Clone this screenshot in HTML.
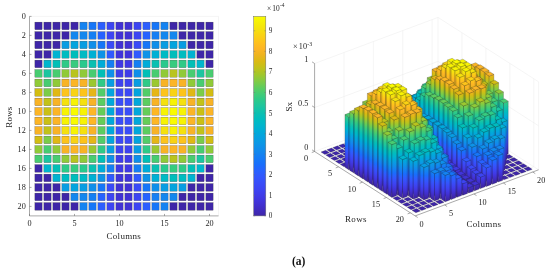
<!DOCTYPE html><html><head><meta charset="utf-8"><title>Figure</title>
<style>html,body{margin:0;padding:0;background:#fff}svg{display:block}text{font-family:"Liberation Serif","DejaVu Serif",serif;fill:#262626}</style></head><body>
<svg width="550" height="273" viewBox="0 0 550 273">
<rect width="550" height="273" fill="#fff"/>
<defs><linearGradient id="cb" x1="0" y1="1" x2="0" y2="0"><stop offset="0.0000" stop-color="#3e26a8"/><stop offset="0.0323" stop-color="#402cc0"/><stop offset="0.0645" stop-color="#4132d6"/><stop offset="0.0968" stop-color="#403ae6"/><stop offset="0.1290" stop-color="#3d43f1"/><stop offset="0.1613" stop-color="#394cf8"/><stop offset="0.1935" stop-color="#3356fd"/><stop offset="0.2258" stop-color="#2861ff"/><stop offset="0.2581" stop-color="#196efc"/><stop offset="0.2903" stop-color="#157bf6"/><stop offset="0.3226" stop-color="#1288ed"/><stop offset="0.3548" stop-color="#0d94e7"/><stop offset="0.3871" stop-color="#079fe1"/><stop offset="0.4194" stop-color="#00aad9"/><stop offset="0.4516" stop-color="#00b5cd"/><stop offset="0.4839" stop-color="#00bcc0"/><stop offset="0.5161" stop-color="#0bc0b0"/><stop offset="0.5484" stop-color="#1dc59f"/><stop offset="0.5806" stop-color="#2bc98b"/><stop offset="0.6129" stop-color="#43cc75"/><stop offset="0.6452" stop-color="#61cd5c"/><stop offset="0.6774" stop-color="#83cb43"/><stop offset="0.7097" stop-color="#a3c72b"/><stop offset="0.7419" stop-color="#c2c21a"/><stop offset="0.7742" stop-color="#daba13"/><stop offset="0.8065" stop-color="#eeb41e"/><stop offset="0.8387" stop-color="#fdb525"/><stop offset="0.8710" stop-color="#fec21c"/><stop offset="0.9032" stop-color="#fad115"/><stop offset="0.9355" stop-color="#f5e00f"/><stop offset="0.9677" stop-color="#f5ee07"/><stop offset="1.0000" stop-color="#f9fb00"/></linearGradient>
<linearGradient id="pg" gradientUnits="userSpaceOnUse" x1="0" y1="0" x2="0" y2="-85.36"><stop offset="0.0000" stop-color="#3e26a8"/><stop offset="0.0323" stop-color="#402cc0"/><stop offset="0.0645" stop-color="#4132d6"/><stop offset="0.0968" stop-color="#403ae6"/><stop offset="0.1290" stop-color="#3d43f1"/><stop offset="0.1613" stop-color="#394cf8"/><stop offset="0.1935" stop-color="#3356fd"/><stop offset="0.2258" stop-color="#2861ff"/><stop offset="0.2581" stop-color="#196efc"/><stop offset="0.2903" stop-color="#157bf6"/><stop offset="0.3226" stop-color="#1288ed"/><stop offset="0.3548" stop-color="#0d94e7"/><stop offset="0.3871" stop-color="#079fe1"/><stop offset="0.4194" stop-color="#00aad9"/><stop offset="0.4516" stop-color="#00b5cd"/><stop offset="0.4839" stop-color="#00bcc0"/><stop offset="0.5161" stop-color="#0bc0b0"/><stop offset="0.5484" stop-color="#1dc59f"/><stop offset="0.5806" stop-color="#2bc98b"/><stop offset="0.6129" stop-color="#43cc75"/><stop offset="0.6452" stop-color="#61cd5c"/><stop offset="0.6774" stop-color="#83cb43"/><stop offset="0.7097" stop-color="#a3c72b"/><stop offset="0.7419" stop-color="#c2c21a"/><stop offset="0.7742" stop-color="#daba13"/><stop offset="0.8065" stop-color="#eeb41e"/><stop offset="0.8387" stop-color="#fdb525"/><stop offset="0.8710" stop-color="#fec21c"/><stop offset="0.9032" stop-color="#fad115"/><stop offset="0.9355" stop-color="#f5e00f"/><stop offset="0.9677" stop-color="#f5ee07"/><stop offset="1.0000" stop-color="#f9fb00"/></linearGradient></defs>
<g stroke="#333" stroke-width="0.26">
<path d="M29.5 16.4H218.5V215.9" fill="none" stroke="#ececec" stroke-width="0.6"/>
<rect x="34.90" y="22.10" width="7.20" height="7.60" fill="#3e26a8"/>
<rect x="43.90" y="22.10" width="7.20" height="7.60" fill="#3e26a8"/>
<rect x="52.90" y="22.10" width="7.20" height="7.60" fill="#3e26a8"/>
<rect x="61.90" y="22.10" width="7.20" height="7.60" fill="#3e26a8"/>
<rect x="70.90" y="22.10" width="7.20" height="7.60" fill="#3e26a8"/>
<rect x="79.90" y="22.10" width="7.20" height="7.60" fill="#1483f1"/>
<rect x="88.90" y="22.10" width="7.20" height="7.60" fill="#1676f8"/>
<rect x="97.90" y="22.10" width="7.20" height="7.60" fill="#2c5efe"/>
<rect x="106.90" y="22.10" width="7.20" height="7.60" fill="#3d45f2"/>
<rect x="115.90" y="22.10" width="7.20" height="7.60" fill="#4132d4"/>
<rect x="124.90" y="22.10" width="7.20" height="7.60" fill="#4132d4"/>
<rect x="133.90" y="22.10" width="7.20" height="7.60" fill="#3d45f2"/>
<rect x="142.90" y="22.10" width="7.20" height="7.60" fill="#2c5efe"/>
<rect x="151.90" y="22.10" width="7.20" height="7.60" fill="#1676f8"/>
<rect x="160.90" y="22.10" width="7.20" height="7.60" fill="#1483f1"/>
<rect x="169.90" y="22.10" width="7.20" height="7.60" fill="#3e26a8"/>
<rect x="178.90" y="22.10" width="7.20" height="7.60" fill="#3e26a8"/>
<rect x="187.90" y="22.10" width="7.20" height="7.60" fill="#3e26a8"/>
<rect x="196.90" y="22.10" width="7.20" height="7.60" fill="#3e26a8"/>
<rect x="205.90" y="22.10" width="7.20" height="7.60" fill="#3e26a8"/>
<rect x="34.90" y="31.60" width="7.20" height="7.60" fill="#3e26a8"/>
<rect x="43.90" y="31.60" width="7.20" height="7.60" fill="#3e26a8"/>
<rect x="52.90" y="31.60" width="7.20" height="7.60" fill="#3e26a8"/>
<rect x="61.90" y="31.60" width="7.20" height="7.60" fill="#3e26a8"/>
<rect x="70.90" y="31.60" width="7.20" height="7.60" fill="#1387ee"/>
<rect x="79.90" y="31.60" width="7.20" height="7.60" fill="#1387ee"/>
<rect x="88.90" y="31.60" width="7.20" height="7.60" fill="#157ff3"/>
<rect x="97.90" y="31.60" width="7.20" height="7.60" fill="#2762ff"/>
<rect x="106.90" y="31.60" width="7.20" height="7.60" fill="#3d45f2"/>
<rect x="115.90" y="31.60" width="7.20" height="7.60" fill="#4132d4"/>
<rect x="124.90" y="31.60" width="7.20" height="7.60" fill="#4132d4"/>
<rect x="133.90" y="31.60" width="7.20" height="7.60" fill="#3d45f2"/>
<rect x="142.90" y="31.60" width="7.20" height="7.60" fill="#2762ff"/>
<rect x="151.90" y="31.60" width="7.20" height="7.60" fill="#157ff3"/>
<rect x="160.90" y="31.60" width="7.20" height="7.60" fill="#1387ee"/>
<rect x="169.90" y="31.60" width="7.20" height="7.60" fill="#1387ee"/>
<rect x="178.90" y="31.60" width="7.20" height="7.60" fill="#3e26a8"/>
<rect x="187.90" y="31.60" width="7.20" height="7.60" fill="#3e26a8"/>
<rect x="196.90" y="31.60" width="7.20" height="7.60" fill="#3e26a8"/>
<rect x="205.90" y="31.60" width="7.20" height="7.60" fill="#3e26a8"/>
<rect x="34.90" y="41.10" width="7.20" height="7.60" fill="#3e26a8"/>
<rect x="43.90" y="41.10" width="7.20" height="7.60" fill="#3e26a8"/>
<rect x="52.90" y="41.10" width="7.20" height="7.60" fill="#3e26a8"/>
<rect x="61.90" y="41.10" width="7.20" height="7.60" fill="#089de2"/>
<rect x="70.90" y="41.10" width="7.20" height="7.60" fill="#04a4de"/>
<rect x="79.90" y="41.10" width="7.20" height="7.60" fill="#089de2"/>
<rect x="88.90" y="41.10" width="7.20" height="7.60" fill="#0f8fea"/>
<rect x="97.90" y="41.10" width="7.20" height="7.60" fill="#1676f8"/>
<rect x="106.90" y="41.10" width="7.20" height="7.60" fill="#3a4bf7"/>
<rect x="115.90" y="41.10" width="7.20" height="7.60" fill="#4132d4"/>
<rect x="124.90" y="41.10" width="7.20" height="7.60" fill="#4132d4"/>
<rect x="133.90" y="41.10" width="7.20" height="7.60" fill="#3a4bf7"/>
<rect x="142.90" y="41.10" width="7.20" height="7.60" fill="#1676f8"/>
<rect x="151.90" y="41.10" width="7.20" height="7.60" fill="#0f8fea"/>
<rect x="160.90" y="41.10" width="7.20" height="7.60" fill="#089de2"/>
<rect x="169.90" y="41.10" width="7.20" height="7.60" fill="#04a4de"/>
<rect x="178.90" y="41.10" width="7.20" height="7.60" fill="#089de2"/>
<rect x="187.90" y="41.10" width="7.20" height="7.60" fill="#3e26a8"/>
<rect x="196.90" y="41.10" width="7.20" height="7.60" fill="#3e26a8"/>
<rect x="205.90" y="41.10" width="7.20" height="7.60" fill="#3e26a8"/>
<rect x="34.90" y="50.60" width="7.20" height="7.60" fill="#3e26a8"/>
<rect x="43.90" y="50.60" width="7.20" height="7.60" fill="#3e26a8"/>
<rect x="52.90" y="50.60" width="7.20" height="7.60" fill="#00b3d1"/>
<rect x="61.90" y="50.60" width="7.20" height="7.60" fill="#00bcc0"/>
<rect x="70.90" y="50.60" width="7.20" height="7.60" fill="#00bdbb"/>
<rect x="79.90" y="50.60" width="7.20" height="7.60" fill="#00bac4"/>
<rect x="88.90" y="50.60" width="7.20" height="7.60" fill="#00b0d4"/>
<rect x="97.90" y="50.60" width="7.20" height="7.60" fill="#0e93e7"/>
<rect x="106.90" y="50.60" width="7.20" height="7.60" fill="#305afe"/>
<rect x="115.90" y="50.60" width="7.20" height="7.60" fill="#4034da"/>
<rect x="124.90" y="50.60" width="7.20" height="7.60" fill="#4034da"/>
<rect x="133.90" y="50.60" width="7.20" height="7.60" fill="#305afe"/>
<rect x="142.90" y="50.60" width="7.20" height="7.60" fill="#0e93e7"/>
<rect x="151.90" y="50.60" width="7.20" height="7.60" fill="#00b0d4"/>
<rect x="160.90" y="50.60" width="7.20" height="7.60" fill="#00bac4"/>
<rect x="169.90" y="50.60" width="7.20" height="7.60" fill="#00bdbb"/>
<rect x="178.90" y="50.60" width="7.20" height="7.60" fill="#00bcc0"/>
<rect x="187.90" y="50.60" width="7.20" height="7.60" fill="#00b3d1"/>
<rect x="196.90" y="50.60" width="7.20" height="7.60" fill="#3e26a8"/>
<rect x="205.90" y="50.60" width="7.20" height="7.60" fill="#3e26a8"/>
<rect x="34.90" y="60.10" width="7.20" height="7.60" fill="#3e26a8"/>
<rect x="43.90" y="60.10" width="7.20" height="7.60" fill="#00b6cd"/>
<rect x="52.90" y="60.10" width="7.20" height="7.60" fill="#02bfb6"/>
<rect x="61.90" y="60.10" width="7.20" height="7.60" fill="#2fca87"/>
<rect x="70.90" y="60.10" width="7.20" height="7.60" fill="#37cb7f"/>
<rect x="79.90" y="60.10" width="7.20" height="7.60" fill="#29c98d"/>
<rect x="88.90" y="60.10" width="7.20" height="7.60" fill="#0ac0b1"/>
<rect x="97.90" y="60.10" width="7.20" height="7.60" fill="#00acd8"/>
<rect x="106.90" y="60.10" width="7.20" height="7.60" fill="#157ff3"/>
<rect x="115.90" y="60.10" width="7.20" height="7.60" fill="#4039e4"/>
<rect x="124.90" y="60.10" width="7.20" height="7.60" fill="#4039e4"/>
<rect x="133.90" y="60.10" width="7.20" height="7.60" fill="#157ff3"/>
<rect x="142.90" y="60.10" width="7.20" height="7.60" fill="#00acd8"/>
<rect x="151.90" y="60.10" width="7.20" height="7.60" fill="#0ac0b1"/>
<rect x="160.90" y="60.10" width="7.20" height="7.60" fill="#29c98d"/>
<rect x="169.90" y="60.10" width="7.20" height="7.60" fill="#37cb7f"/>
<rect x="178.90" y="60.10" width="7.20" height="7.60" fill="#2fca87"/>
<rect x="187.90" y="60.10" width="7.20" height="7.60" fill="#02bfb6"/>
<rect x="196.90" y="60.10" width="7.20" height="7.60" fill="#00b6cd"/>
<rect x="205.90" y="60.10" width="7.20" height="7.60" fill="#3e26a8"/>
<rect x="34.90" y="69.60" width="7.20" height="7.60" fill="#48cc71"/>
<rect x="43.90" y="69.60" width="7.20" height="7.60" fill="#1cc5a0"/>
<rect x="52.90" y="69.60" width="7.20" height="7.60" fill="#48cc71"/>
<rect x="61.90" y="69.60" width="7.20" height="7.60" fill="#90ca38"/>
<rect x="70.90" y="69.60" width="7.20" height="7.60" fill="#b9c41e"/>
<rect x="79.90" y="69.60" width="7.20" height="7.60" fill="#90ca38"/>
<rect x="88.90" y="69.60" width="7.20" height="7.60" fill="#48cc71"/>
<rect x="97.90" y="69.60" width="7.20" height="7.60" fill="#02bfb6"/>
<rect x="106.90" y="69.60" width="7.20" height="7.60" fill="#0f8fea"/>
<rect x="115.90" y="69.60" width="7.20" height="7.60" fill="#3f3ce8"/>
<rect x="124.90" y="69.60" width="7.20" height="7.60" fill="#3f3ce8"/>
<rect x="133.90" y="69.60" width="7.20" height="7.60" fill="#0f8fea"/>
<rect x="142.90" y="69.60" width="7.20" height="7.60" fill="#02bfb6"/>
<rect x="151.90" y="69.60" width="7.20" height="7.60" fill="#48cc71"/>
<rect x="160.90" y="69.60" width="7.20" height="7.60" fill="#90ca38"/>
<rect x="169.90" y="69.60" width="7.20" height="7.60" fill="#b9c41e"/>
<rect x="178.90" y="69.60" width="7.20" height="7.60" fill="#90ca38"/>
<rect x="187.90" y="69.60" width="7.20" height="7.60" fill="#48cc71"/>
<rect x="196.90" y="69.60" width="7.20" height="7.60" fill="#1cc5a0"/>
<rect x="205.90" y="69.60" width="7.20" height="7.60" fill="#48cc71"/>
<rect x="34.90" y="79.10" width="7.20" height="7.60" fill="#90ca38"/>
<rect x="43.90" y="79.10" width="7.20" height="7.60" fill="#48cc71"/>
<rect x="52.90" y="79.10" width="7.20" height="7.60" fill="#90ca38"/>
<rect x="61.90" y="79.10" width="7.20" height="7.60" fill="#f8b326"/>
<rect x="70.90" y="79.10" width="7.20" height="7.60" fill="#fcb526"/>
<rect x="79.90" y="79.10" width="7.20" height="7.60" fill="#f8b326"/>
<rect x="88.90" y="79.10" width="7.20" height="7.60" fill="#9bc831"/>
<rect x="97.90" y="79.10" width="7.20" height="7.60" fill="#2fca87"/>
<rect x="106.90" y="79.10" width="7.20" height="7.60" fill="#089de2"/>
<rect x="115.90" y="79.10" width="7.20" height="7.60" fill="#3e42ef"/>
<rect x="124.90" y="79.10" width="7.20" height="7.60" fill="#3e42ef"/>
<rect x="133.90" y="79.10" width="7.20" height="7.60" fill="#089de2"/>
<rect x="142.90" y="79.10" width="7.20" height="7.60" fill="#2fca87"/>
<rect x="151.90" y="79.10" width="7.20" height="7.60" fill="#9bc831"/>
<rect x="160.90" y="79.10" width="7.20" height="7.60" fill="#f8b326"/>
<rect x="169.90" y="79.10" width="7.20" height="7.60" fill="#fcb526"/>
<rect x="178.90" y="79.10" width="7.20" height="7.60" fill="#f8b326"/>
<rect x="187.90" y="79.10" width="7.20" height="7.60" fill="#90ca38"/>
<rect x="196.90" y="79.10" width="7.20" height="7.60" fill="#48cc71"/>
<rect x="205.90" y="79.10" width="7.20" height="7.60" fill="#90ca38"/>
<rect x="34.90" y="88.60" width="7.20" height="7.60" fill="#d2bd13"/>
<rect x="43.90" y="88.60" width="7.20" height="7.60" fill="#7bcc48"/>
<rect x="52.90" y="88.60" width="7.20" height="7.60" fill="#e0b815"/>
<rect x="61.90" y="88.60" width="7.20" height="7.60" fill="#fdc41b"/>
<rect x="70.90" y="88.60" width="7.20" height="7.60" fill="#f9d314"/>
<rect x="79.90" y="88.60" width="7.20" height="7.60" fill="#fdc41b"/>
<rect x="88.90" y="88.60" width="7.20" height="7.60" fill="#e6b617"/>
<rect x="97.90" y="88.60" width="7.20" height="7.60" fill="#52cd69"/>
<rect x="106.90" y="88.60" width="7.20" height="7.60" fill="#04a4de"/>
<rect x="115.90" y="88.60" width="7.20" height="7.60" fill="#3c48f5"/>
<rect x="124.90" y="88.60" width="7.20" height="7.60" fill="#3c48f5"/>
<rect x="133.90" y="88.60" width="7.20" height="7.60" fill="#04a4de"/>
<rect x="142.90" y="88.60" width="7.20" height="7.60" fill="#52cd69"/>
<rect x="151.90" y="88.60" width="7.20" height="7.60" fill="#e6b617"/>
<rect x="160.90" y="88.60" width="7.20" height="7.60" fill="#fdc41b"/>
<rect x="169.90" y="88.60" width="7.20" height="7.60" fill="#f9d314"/>
<rect x="178.90" y="88.60" width="7.20" height="7.60" fill="#fdc41b"/>
<rect x="187.90" y="88.60" width="7.20" height="7.60" fill="#e0b815"/>
<rect x="196.90" y="88.60" width="7.20" height="7.60" fill="#7bcc48"/>
<rect x="205.90" y="88.60" width="7.20" height="7.60" fill="#d2bd13"/>
<rect x="34.90" y="98.10" width="7.20" height="7.60" fill="#f8b326"/>
<rect x="43.90" y="98.10" width="7.20" height="7.60" fill="#c2c219"/>
<rect x="52.90" y="98.10" width="7.20" height="7.60" fill="#f8b326"/>
<rect x="61.90" y="98.10" width="7.20" height="7.60" fill="#f5e10e"/>
<rect x="70.90" y="98.10" width="7.20" height="7.60" fill="#f7f303"/>
<rect x="79.90" y="98.10" width="7.20" height="7.60" fill="#f5e10e"/>
<rect x="88.90" y="98.10" width="7.20" height="7.60" fill="#f8b326"/>
<rect x="97.90" y="98.10" width="7.20" height="7.60" fill="#5bcd60"/>
<rect x="106.90" y="98.10" width="7.20" height="7.60" fill="#01a8db"/>
<rect x="115.90" y="98.10" width="7.20" height="7.60" fill="#394ef9"/>
<rect x="124.90" y="98.10" width="7.20" height="7.60" fill="#394ef9"/>
<rect x="133.90" y="98.10" width="7.20" height="7.60" fill="#01a8db"/>
<rect x="142.90" y="98.10" width="7.20" height="7.60" fill="#5bcd60"/>
<rect x="151.90" y="98.10" width="7.20" height="7.60" fill="#f8b326"/>
<rect x="160.90" y="98.10" width="7.20" height="7.60" fill="#f5e10e"/>
<rect x="169.90" y="98.10" width="7.20" height="7.60" fill="#f7f303"/>
<rect x="178.90" y="98.10" width="7.20" height="7.60" fill="#f5e10e"/>
<rect x="187.90" y="98.10" width="7.20" height="7.60" fill="#f8b326"/>
<rect x="196.90" y="98.10" width="7.20" height="7.60" fill="#c2c219"/>
<rect x="205.90" y="98.10" width="7.20" height="7.60" fill="#f8b326"/>
<rect x="34.90" y="107.60" width="7.20" height="7.60" fill="#fcb526"/>
<rect x="43.90" y="107.60" width="7.20" height="7.60" fill="#cac015"/>
<rect x="52.90" y="107.60" width="7.20" height="7.60" fill="#fcb526"/>
<rect x="61.90" y="107.60" width="7.20" height="7.60" fill="#f7f303"/>
<rect x="70.90" y="107.60" width="7.20" height="7.60" fill="#f9fb00"/>
<rect x="79.90" y="107.60" width="7.20" height="7.60" fill="#f7f303"/>
<rect x="88.90" y="107.60" width="7.20" height="7.60" fill="#feb724"/>
<rect x="97.90" y="107.60" width="7.20" height="7.60" fill="#65cd58"/>
<rect x="106.90" y="107.60" width="7.20" height="7.60" fill="#01a8db"/>
<rect x="115.90" y="107.60" width="7.20" height="7.60" fill="#394ef9"/>
<rect x="124.90" y="107.60" width="7.20" height="7.60" fill="#394ef9"/>
<rect x="133.90" y="107.60" width="7.20" height="7.60" fill="#01a8db"/>
<rect x="142.90" y="107.60" width="7.20" height="7.60" fill="#65cd58"/>
<rect x="151.90" y="107.60" width="7.20" height="7.60" fill="#feb724"/>
<rect x="160.90" y="107.60" width="7.20" height="7.60" fill="#f7f303"/>
<rect x="169.90" y="107.60" width="7.20" height="7.60" fill="#f9fb00"/>
<rect x="178.90" y="107.60" width="7.20" height="7.60" fill="#f7f303"/>
<rect x="187.90" y="107.60" width="7.20" height="7.60" fill="#fcb526"/>
<rect x="196.90" y="107.60" width="7.20" height="7.60" fill="#cac015"/>
<rect x="205.90" y="107.60" width="7.20" height="7.60" fill="#fcb526"/>
<rect x="34.90" y="117.10" width="7.20" height="7.60" fill="#fcb526"/>
<rect x="43.90" y="117.10" width="7.20" height="7.60" fill="#cac015"/>
<rect x="52.90" y="117.10" width="7.20" height="7.60" fill="#fcb526"/>
<rect x="61.90" y="117.10" width="7.20" height="7.60" fill="#f7f303"/>
<rect x="70.90" y="117.10" width="7.20" height="7.60" fill="#f9fb00"/>
<rect x="79.90" y="117.10" width="7.20" height="7.60" fill="#f7f303"/>
<rect x="88.90" y="117.10" width="7.20" height="7.60" fill="#feb724"/>
<rect x="97.90" y="117.10" width="7.20" height="7.60" fill="#65cd58"/>
<rect x="106.90" y="117.10" width="7.20" height="7.60" fill="#01a8db"/>
<rect x="115.90" y="117.10" width="7.20" height="7.60" fill="#394ef9"/>
<rect x="124.90" y="117.10" width="7.20" height="7.60" fill="#394ef9"/>
<rect x="133.90" y="117.10" width="7.20" height="7.60" fill="#01a8db"/>
<rect x="142.90" y="117.10" width="7.20" height="7.60" fill="#65cd58"/>
<rect x="151.90" y="117.10" width="7.20" height="7.60" fill="#feb724"/>
<rect x="160.90" y="117.10" width="7.20" height="7.60" fill="#f7f303"/>
<rect x="169.90" y="117.10" width="7.20" height="7.60" fill="#f9fb00"/>
<rect x="178.90" y="117.10" width="7.20" height="7.60" fill="#f7f303"/>
<rect x="187.90" y="117.10" width="7.20" height="7.60" fill="#fcb526"/>
<rect x="196.90" y="117.10" width="7.20" height="7.60" fill="#cac015"/>
<rect x="205.90" y="117.10" width="7.20" height="7.60" fill="#fcb526"/>
<rect x="34.90" y="126.60" width="7.20" height="7.60" fill="#f8b326"/>
<rect x="43.90" y="126.60" width="7.20" height="7.60" fill="#c2c219"/>
<rect x="52.90" y="126.60" width="7.20" height="7.60" fill="#f8b326"/>
<rect x="61.90" y="126.60" width="7.20" height="7.60" fill="#f5e10e"/>
<rect x="70.90" y="126.60" width="7.20" height="7.60" fill="#f7f303"/>
<rect x="79.90" y="126.60" width="7.20" height="7.60" fill="#f5e10e"/>
<rect x="88.90" y="126.60" width="7.20" height="7.60" fill="#f8b326"/>
<rect x="97.90" y="126.60" width="7.20" height="7.60" fill="#5bcd60"/>
<rect x="106.90" y="126.60" width="7.20" height="7.60" fill="#01a8db"/>
<rect x="115.90" y="126.60" width="7.20" height="7.60" fill="#394ef9"/>
<rect x="124.90" y="126.60" width="7.20" height="7.60" fill="#394ef9"/>
<rect x="133.90" y="126.60" width="7.20" height="7.60" fill="#01a8db"/>
<rect x="142.90" y="126.60" width="7.20" height="7.60" fill="#5bcd60"/>
<rect x="151.90" y="126.60" width="7.20" height="7.60" fill="#f8b326"/>
<rect x="160.90" y="126.60" width="7.20" height="7.60" fill="#f5e10e"/>
<rect x="169.90" y="126.60" width="7.20" height="7.60" fill="#f7f303"/>
<rect x="178.90" y="126.60" width="7.20" height="7.60" fill="#f5e10e"/>
<rect x="187.90" y="126.60" width="7.20" height="7.60" fill="#f8b326"/>
<rect x="196.90" y="126.60" width="7.20" height="7.60" fill="#c2c219"/>
<rect x="205.90" y="126.60" width="7.20" height="7.60" fill="#f8b326"/>
<rect x="34.90" y="136.10" width="7.20" height="7.60" fill="#d2bd13"/>
<rect x="43.90" y="136.10" width="7.20" height="7.60" fill="#7bcc48"/>
<rect x="52.90" y="136.10" width="7.20" height="7.60" fill="#e0b815"/>
<rect x="61.90" y="136.10" width="7.20" height="7.60" fill="#fdc41b"/>
<rect x="70.90" y="136.10" width="7.20" height="7.60" fill="#f9d314"/>
<rect x="79.90" y="136.10" width="7.20" height="7.60" fill="#fdc41b"/>
<rect x="88.90" y="136.10" width="7.20" height="7.60" fill="#e6b617"/>
<rect x="97.90" y="136.10" width="7.20" height="7.60" fill="#52cd69"/>
<rect x="106.90" y="136.10" width="7.20" height="7.60" fill="#04a4de"/>
<rect x="115.90" y="136.10" width="7.20" height="7.60" fill="#3c48f5"/>
<rect x="124.90" y="136.10" width="7.20" height="7.60" fill="#3c48f5"/>
<rect x="133.90" y="136.10" width="7.20" height="7.60" fill="#04a4de"/>
<rect x="142.90" y="136.10" width="7.20" height="7.60" fill="#52cd69"/>
<rect x="151.90" y="136.10" width="7.20" height="7.60" fill="#e6b617"/>
<rect x="160.90" y="136.10" width="7.20" height="7.60" fill="#fdc41b"/>
<rect x="169.90" y="136.10" width="7.20" height="7.60" fill="#f9d314"/>
<rect x="178.90" y="136.10" width="7.20" height="7.60" fill="#fdc41b"/>
<rect x="187.90" y="136.10" width="7.20" height="7.60" fill="#e0b815"/>
<rect x="196.90" y="136.10" width="7.20" height="7.60" fill="#7bcc48"/>
<rect x="205.90" y="136.10" width="7.20" height="7.60" fill="#d2bd13"/>
<rect x="34.90" y="145.60" width="7.20" height="7.60" fill="#90ca38"/>
<rect x="43.90" y="145.60" width="7.20" height="7.60" fill="#48cc71"/>
<rect x="52.90" y="145.60" width="7.20" height="7.60" fill="#90ca38"/>
<rect x="61.90" y="145.60" width="7.20" height="7.60" fill="#f8b326"/>
<rect x="70.90" y="145.60" width="7.20" height="7.60" fill="#fcb526"/>
<rect x="79.90" y="145.60" width="7.20" height="7.60" fill="#f8b326"/>
<rect x="88.90" y="145.60" width="7.20" height="7.60" fill="#9bc831"/>
<rect x="97.90" y="145.60" width="7.20" height="7.60" fill="#2fca87"/>
<rect x="106.90" y="145.60" width="7.20" height="7.60" fill="#089de2"/>
<rect x="115.90" y="145.60" width="7.20" height="7.60" fill="#3e42ef"/>
<rect x="124.90" y="145.60" width="7.20" height="7.60" fill="#3e42ef"/>
<rect x="133.90" y="145.60" width="7.20" height="7.60" fill="#089de2"/>
<rect x="142.90" y="145.60" width="7.20" height="7.60" fill="#2fca87"/>
<rect x="151.90" y="145.60" width="7.20" height="7.60" fill="#9bc831"/>
<rect x="160.90" y="145.60" width="7.20" height="7.60" fill="#f8b326"/>
<rect x="169.90" y="145.60" width="7.20" height="7.60" fill="#fcb526"/>
<rect x="178.90" y="145.60" width="7.20" height="7.60" fill="#f8b326"/>
<rect x="187.90" y="145.60" width="7.20" height="7.60" fill="#90ca38"/>
<rect x="196.90" y="145.60" width="7.20" height="7.60" fill="#48cc71"/>
<rect x="205.90" y="145.60" width="7.20" height="7.60" fill="#90ca38"/>
<rect x="34.90" y="155.10" width="7.20" height="7.60" fill="#48cc71"/>
<rect x="43.90" y="155.10" width="7.20" height="7.60" fill="#1cc5a0"/>
<rect x="52.90" y="155.10" width="7.20" height="7.60" fill="#48cc71"/>
<rect x="61.90" y="155.10" width="7.20" height="7.60" fill="#90ca38"/>
<rect x="70.90" y="155.10" width="7.20" height="7.60" fill="#b9c41e"/>
<rect x="79.90" y="155.10" width="7.20" height="7.60" fill="#90ca38"/>
<rect x="88.90" y="155.10" width="7.20" height="7.60" fill="#48cc71"/>
<rect x="97.90" y="155.10" width="7.20" height="7.60" fill="#02bfb6"/>
<rect x="106.90" y="155.10" width="7.20" height="7.60" fill="#0f8fea"/>
<rect x="115.90" y="155.10" width="7.20" height="7.60" fill="#3f3ce8"/>
<rect x="124.90" y="155.10" width="7.20" height="7.60" fill="#3f3ce8"/>
<rect x="133.90" y="155.10" width="7.20" height="7.60" fill="#0f8fea"/>
<rect x="142.90" y="155.10" width="7.20" height="7.60" fill="#02bfb6"/>
<rect x="151.90" y="155.10" width="7.20" height="7.60" fill="#48cc71"/>
<rect x="160.90" y="155.10" width="7.20" height="7.60" fill="#90ca38"/>
<rect x="169.90" y="155.10" width="7.20" height="7.60" fill="#b9c41e"/>
<rect x="178.90" y="155.10" width="7.20" height="7.60" fill="#90ca38"/>
<rect x="187.90" y="155.10" width="7.20" height="7.60" fill="#48cc71"/>
<rect x="196.90" y="155.10" width="7.20" height="7.60" fill="#1cc5a0"/>
<rect x="205.90" y="155.10" width="7.20" height="7.60" fill="#48cc71"/>
<rect x="34.90" y="164.60" width="7.20" height="7.60" fill="#3e26a8"/>
<rect x="43.90" y="164.60" width="7.20" height="7.60" fill="#00b6cd"/>
<rect x="52.90" y="164.60" width="7.20" height="7.60" fill="#02bfb6"/>
<rect x="61.90" y="164.60" width="7.20" height="7.60" fill="#2fca87"/>
<rect x="70.90" y="164.60" width="7.20" height="7.60" fill="#37cb7f"/>
<rect x="79.90" y="164.60" width="7.20" height="7.60" fill="#29c98d"/>
<rect x="88.90" y="164.60" width="7.20" height="7.60" fill="#0ac0b1"/>
<rect x="97.90" y="164.60" width="7.20" height="7.60" fill="#00acd8"/>
<rect x="106.90" y="164.60" width="7.20" height="7.60" fill="#157ff3"/>
<rect x="115.90" y="164.60" width="7.20" height="7.60" fill="#4039e4"/>
<rect x="124.90" y="164.60" width="7.20" height="7.60" fill="#4039e4"/>
<rect x="133.90" y="164.60" width="7.20" height="7.60" fill="#157ff3"/>
<rect x="142.90" y="164.60" width="7.20" height="7.60" fill="#00acd8"/>
<rect x="151.90" y="164.60" width="7.20" height="7.60" fill="#0ac0b1"/>
<rect x="160.90" y="164.60" width="7.20" height="7.60" fill="#29c98d"/>
<rect x="169.90" y="164.60" width="7.20" height="7.60" fill="#37cb7f"/>
<rect x="178.90" y="164.60" width="7.20" height="7.60" fill="#2fca87"/>
<rect x="187.90" y="164.60" width="7.20" height="7.60" fill="#02bfb6"/>
<rect x="196.90" y="164.60" width="7.20" height="7.60" fill="#00b6cd"/>
<rect x="205.90" y="164.60" width="7.20" height="7.60" fill="#3e26a8"/>
<rect x="34.90" y="174.10" width="7.20" height="7.60" fill="#3e26a8"/>
<rect x="43.90" y="174.10" width="7.20" height="7.60" fill="#3e26a8"/>
<rect x="52.90" y="174.10" width="7.20" height="7.60" fill="#00b3d1"/>
<rect x="61.90" y="174.10" width="7.20" height="7.60" fill="#00bcc0"/>
<rect x="70.90" y="174.10" width="7.20" height="7.60" fill="#00bdbb"/>
<rect x="79.90" y="174.10" width="7.20" height="7.60" fill="#00bac4"/>
<rect x="88.90" y="174.10" width="7.20" height="7.60" fill="#00b0d4"/>
<rect x="97.90" y="174.10" width="7.20" height="7.60" fill="#0e93e7"/>
<rect x="106.90" y="174.10" width="7.20" height="7.60" fill="#305afe"/>
<rect x="115.90" y="174.10" width="7.20" height="7.60" fill="#4034da"/>
<rect x="124.90" y="174.10" width="7.20" height="7.60" fill="#4034da"/>
<rect x="133.90" y="174.10" width="7.20" height="7.60" fill="#305afe"/>
<rect x="142.90" y="174.10" width="7.20" height="7.60" fill="#0e93e7"/>
<rect x="151.90" y="174.10" width="7.20" height="7.60" fill="#00b0d4"/>
<rect x="160.90" y="174.10" width="7.20" height="7.60" fill="#00bac4"/>
<rect x="169.90" y="174.10" width="7.20" height="7.60" fill="#00bdbb"/>
<rect x="178.90" y="174.10" width="7.20" height="7.60" fill="#00bcc0"/>
<rect x="187.90" y="174.10" width="7.20" height="7.60" fill="#00b3d1"/>
<rect x="196.90" y="174.10" width="7.20" height="7.60" fill="#3e26a8"/>
<rect x="205.90" y="174.10" width="7.20" height="7.60" fill="#3e26a8"/>
<rect x="34.90" y="183.60" width="7.20" height="7.60" fill="#3e26a8"/>
<rect x="43.90" y="183.60" width="7.20" height="7.60" fill="#3e26a8"/>
<rect x="52.90" y="183.60" width="7.20" height="7.60" fill="#3e26a8"/>
<rect x="61.90" y="183.60" width="7.20" height="7.60" fill="#089de2"/>
<rect x="70.90" y="183.60" width="7.20" height="7.60" fill="#04a4de"/>
<rect x="79.90" y="183.60" width="7.20" height="7.60" fill="#089de2"/>
<rect x="88.90" y="183.60" width="7.20" height="7.60" fill="#0f8fea"/>
<rect x="97.90" y="183.60" width="7.20" height="7.60" fill="#1676f8"/>
<rect x="106.90" y="183.60" width="7.20" height="7.60" fill="#3a4bf7"/>
<rect x="115.90" y="183.60" width="7.20" height="7.60" fill="#4132d4"/>
<rect x="124.90" y="183.60" width="7.20" height="7.60" fill="#4132d4"/>
<rect x="133.90" y="183.60" width="7.20" height="7.60" fill="#3a4bf7"/>
<rect x="142.90" y="183.60" width="7.20" height="7.60" fill="#1676f8"/>
<rect x="151.90" y="183.60" width="7.20" height="7.60" fill="#0f8fea"/>
<rect x="160.90" y="183.60" width="7.20" height="7.60" fill="#089de2"/>
<rect x="169.90" y="183.60" width="7.20" height="7.60" fill="#04a4de"/>
<rect x="178.90" y="183.60" width="7.20" height="7.60" fill="#089de2"/>
<rect x="187.90" y="183.60" width="7.20" height="7.60" fill="#3e26a8"/>
<rect x="196.90" y="183.60" width="7.20" height="7.60" fill="#3e26a8"/>
<rect x="205.90" y="183.60" width="7.20" height="7.60" fill="#3e26a8"/>
<rect x="34.90" y="193.10" width="7.20" height="7.60" fill="#3e26a8"/>
<rect x="43.90" y="193.10" width="7.20" height="7.60" fill="#3e26a8"/>
<rect x="52.90" y="193.10" width="7.20" height="7.60" fill="#3e26a8"/>
<rect x="61.90" y="193.10" width="7.20" height="7.60" fill="#3e26a8"/>
<rect x="70.90" y="193.10" width="7.20" height="7.60" fill="#1387ee"/>
<rect x="79.90" y="193.10" width="7.20" height="7.60" fill="#1387ee"/>
<rect x="88.90" y="193.10" width="7.20" height="7.60" fill="#157ff3"/>
<rect x="97.90" y="193.10" width="7.20" height="7.60" fill="#2762ff"/>
<rect x="106.90" y="193.10" width="7.20" height="7.60" fill="#3d45f2"/>
<rect x="115.90" y="193.10" width="7.20" height="7.60" fill="#4132d4"/>
<rect x="124.90" y="193.10" width="7.20" height="7.60" fill="#4132d4"/>
<rect x="133.90" y="193.10" width="7.20" height="7.60" fill="#3d45f2"/>
<rect x="142.90" y="193.10" width="7.20" height="7.60" fill="#2762ff"/>
<rect x="151.90" y="193.10" width="7.20" height="7.60" fill="#157ff3"/>
<rect x="160.90" y="193.10" width="7.20" height="7.60" fill="#1387ee"/>
<rect x="169.90" y="193.10" width="7.20" height="7.60" fill="#1387ee"/>
<rect x="178.90" y="193.10" width="7.20" height="7.60" fill="#3e26a8"/>
<rect x="187.90" y="193.10" width="7.20" height="7.60" fill="#3e26a8"/>
<rect x="196.90" y="193.10" width="7.20" height="7.60" fill="#3e26a8"/>
<rect x="205.90" y="193.10" width="7.20" height="7.60" fill="#3e26a8"/>
<rect x="34.90" y="202.60" width="7.20" height="7.60" fill="#3e26a8"/>
<rect x="43.90" y="202.60" width="7.20" height="7.60" fill="#3e26a8"/>
<rect x="52.90" y="202.60" width="7.20" height="7.60" fill="#3e26a8"/>
<rect x="61.90" y="202.60" width="7.20" height="7.60" fill="#3e26a8"/>
<rect x="70.90" y="202.60" width="7.20" height="7.60" fill="#3e26a8"/>
<rect x="79.90" y="202.60" width="7.20" height="7.60" fill="#1483f1"/>
<rect x="88.90" y="202.60" width="7.20" height="7.60" fill="#1676f8"/>
<rect x="97.90" y="202.60" width="7.20" height="7.60" fill="#2c5efe"/>
<rect x="106.90" y="202.60" width="7.20" height="7.60" fill="#3d45f2"/>
<rect x="115.90" y="202.60" width="7.20" height="7.60" fill="#4132d4"/>
<rect x="124.90" y="202.60" width="7.20" height="7.60" fill="#4132d4"/>
<rect x="133.90" y="202.60" width="7.20" height="7.60" fill="#3d45f2"/>
<rect x="142.90" y="202.60" width="7.20" height="7.60" fill="#2c5efe"/>
<rect x="151.90" y="202.60" width="7.20" height="7.60" fill="#1676f8"/>
<rect x="160.90" y="202.60" width="7.20" height="7.60" fill="#1483f1"/>
<rect x="169.90" y="202.60" width="7.20" height="7.60" fill="#3e26a8"/>
<rect x="178.90" y="202.60" width="7.20" height="7.60" fill="#3e26a8"/>
<rect x="187.90" y="202.60" width="7.20" height="7.60" fill="#3e26a8"/>
<rect x="196.90" y="202.60" width="7.20" height="7.60" fill="#3e26a8"/>
<rect x="205.90" y="202.60" width="7.20" height="7.60" fill="#3e26a8"/>
</g>
<path d="M29.5 16.4V215.9H218.5" fill="none" stroke="#6e6e6e" stroke-width="0.6"/>
<path d="M29.50 215.90v-2M74.50 215.90v-2M119.50 215.90v-2M164.50 215.90v-2M209.50 215.90v-2M29.50 16.40h2M29.50 35.40h2M29.50 54.40h2M29.50 73.40h2M29.50 92.40h2M29.50 111.40h2M29.50 130.40h2M29.50 149.40h2M29.50 168.40h2M29.50 187.40h2M29.50 206.40h2" stroke="#6e6e6e" stroke-width="0.6" fill="none"/>
<text x="29.5" y="225.9" font-size="8.2" text-anchor="middle">0</text>
<text x="74.5" y="225.9" font-size="8.2" text-anchor="middle">5</text>
<text x="119.5" y="225.9" font-size="8.2" text-anchor="middle">10</text>
<text x="164.5" y="225.9" font-size="8.2" text-anchor="middle">15</text>
<text x="209.5" y="225.9" font-size="8.2" text-anchor="middle">20</text>
<text x="25.8" y="19.0" font-size="8.2" text-anchor="end">0</text>
<text x="25.8" y="38.0" font-size="8.2" text-anchor="end">2</text>
<text x="25.8" y="57.0" font-size="8.2" text-anchor="end">4</text>
<text x="25.8" y="76.0" font-size="8.2" text-anchor="end">6</text>
<text x="25.8" y="95.0" font-size="8.2" text-anchor="end">8</text>
<text x="25.8" y="114.0" font-size="8.2" text-anchor="end">10</text>
<text x="25.8" y="133.0" font-size="8.2" text-anchor="end">12</text>
<text x="25.8" y="152.0" font-size="8.2" text-anchor="end">14</text>
<text x="25.8" y="171.0" font-size="8.2" text-anchor="end">16</text>
<text x="25.8" y="190.0" font-size="8.2" text-anchor="end">18</text>
<text x="25.8" y="209.0" font-size="8.2" text-anchor="end">20</text>
<text x="106.5" y="239" font-size="9" textLength="34.3">Columns</text>
<text transform="translate(11.7,127.8) rotate(-90)" font-size="9" textLength="21.2">Rows</text>
<rect x="253.7" y="16.4" width="12.1" height="199.5" fill="url(#cb)" stroke="#6e6e6e" stroke-width="0.5"/>
<text x="268.8" y="218.4" font-size="7.2">0</text>
<path d="M265.8 215.90h-1.5M253.7 215.90h1.5" stroke="#6e6e6e" stroke-width="0.4"/>
<text x="268.8" y="197.8" font-size="7.2">1</text>
<path d="M265.8 195.33h-1.5M253.7 195.33h1.5" stroke="#6e6e6e" stroke-width="0.4"/>
<text x="268.8" y="177.3" font-size="7.2">2</text>
<path d="M265.8 174.77h-1.5M253.7 174.77h1.5" stroke="#6e6e6e" stroke-width="0.4"/>
<text x="268.8" y="156.7" font-size="7.2">3</text>
<path d="M265.8 154.20h-1.5M253.7 154.20h1.5" stroke="#6e6e6e" stroke-width="0.4"/>
<text x="268.8" y="136.1" font-size="7.2">4</text>
<path d="M265.8 133.63h-1.5M253.7 133.63h1.5" stroke="#6e6e6e" stroke-width="0.4"/>
<text x="268.8" y="115.6" font-size="7.2">5</text>
<path d="M265.8 113.06h-1.5M253.7 113.06h1.5" stroke="#6e6e6e" stroke-width="0.4"/>
<text x="268.8" y="95.0" font-size="7.2">6</text>
<path d="M265.8 92.50h-1.5M253.7 92.50h1.5" stroke="#6e6e6e" stroke-width="0.4"/>
<text x="268.8" y="74.4" font-size="7.2">7</text>
<path d="M265.8 71.93h-1.5M253.7 71.93h1.5" stroke="#6e6e6e" stroke-width="0.4"/>
<text x="268.8" y="53.9" font-size="7.2">8</text>
<path d="M265.8 51.36h-1.5M253.7 51.36h1.5" stroke="#6e6e6e" stroke-width="0.4"/>
<text x="268.8" y="33.3" font-size="7.2">9</text>
<path d="M265.8 30.80h-1.5M253.7 30.80h1.5" stroke="#6e6e6e" stroke-width="0.4"/>
<text x="267" y="10.6" font-size="7.4">×<tspan dx="1.2">10</tspan><tspan dy="-3.6" dx="0.3" font-size="5.4">-4</tspan></text>
<path d="M343.98 140.52V52.52M373.36 129.55V41.55M402.74 118.57V30.57M432.12 107.60V19.60M438.00 105.40V17.40M461.95 120.73V32.73M485.90 136.07V48.07M509.86 151.40V63.40M533.81 166.73V78.73M314.60 151.50L438.00 105.40L538.60 169.80M314.60 107.50L438.00 61.40L538.60 125.80M314.60 63.50L438.00 17.40L538.60 81.80M343.98 140.52L444.58 204.92M373.36 129.55L473.96 193.95M402.74 118.57L503.34 182.97M432.12 107.60L532.72 172.00M338.55 166.83L461.95 120.73M362.50 182.17L485.90 136.07M386.46 197.50L509.86 151.40M410.41 212.83L533.81 166.73" fill="none" stroke="#eaeaea" stroke-width="0.5"/>
<path d="M538.60 169.80V81.80" stroke="#eaeaea" stroke-width="0.5"/>
<g stroke="#1a1a1a" stroke-width="0.22" stroke-linejoin="round">
<g transform="translate(432.65,110.31)"><path fill="#3e26a8" d="M0 -0.00L3.83 2.45L8.53 0.70L4.70 -1.76z"/></g>
<g transform="translate(426.77,112.51)"><path fill="#3e26a8" d="M0 -0.00L3.83 2.45L8.53 0.70L4.70 -1.76z"/></g>
<g transform="translate(420.90,114.70)"><path fill="#3e26a8" d="M0 -0.00L3.83 2.45L8.53 0.70L4.70 -1.76z"/></g>
<g transform="translate(415.02,116.90)"><path fill="#3e26a8" d="M0 -0.00L3.83 2.45L8.53 0.70L4.70 -1.76z"/></g>
<g transform="translate(409.14,119.09)"><path fill="#3e26a8" d="M0 -0.00L3.83 2.45L8.53 0.70L4.70 -1.76z"/></g>
<g transform="translate(403.27,121.29)"><path fill="url(#pg)" d="M0 0L3.83 2.45v-26.40L0 -26.40z"/><path fill="url(#pg)" d="M3.83 2.45L8.53 0.70v-26.40L3.83 -23.95z"/><path fill="#1483f1" d="M0 -26.40L3.83 -23.95L8.53 -25.70L4.70 -28.16z"/></g>
<g transform="translate(397.39,123.48)"><path fill="url(#pg)" d="M0 0L3.83 2.45v-23.76L0 -23.76z"/><path fill="url(#pg)" d="M3.83 2.45L8.53 0.70v-23.76L3.83 -21.31z"/><path fill="#1676f8" d="M0 -23.76L3.83 -21.31L8.53 -23.06L4.70 -25.52z"/></g>
<g transform="translate(391.51,125.68)"><path fill="url(#pg)" d="M0 0L3.83 2.45v-18.48L0 -18.48z"/><path fill="url(#pg)" d="M3.83 2.45L8.53 0.70v-18.48L3.83 -16.03z"/><path fill="#2c5efe" d="M0 -18.48L3.83 -16.03L8.53 -17.78L4.70 -20.24z"/></g>
<g transform="translate(385.64,127.88)"><path fill="url(#pg)" d="M0 0L3.83 2.45v-11.44L0 -11.44z"/><path fill="url(#pg)" d="M3.83 2.45L8.53 0.70v-11.44L3.83 -8.99z"/><path fill="#3d45f2" d="M0 -11.44L3.83 -8.99L8.53 -10.74L4.70 -13.20z"/></g>
<g transform="translate(379.76,130.07)"><path fill="url(#pg)" d="M0 0L3.83 2.45v-5.28L0 -5.28z"/><path fill="url(#pg)" d="M3.83 2.45L8.53 0.70v-5.28L3.83 -2.83z"/><path fill="#4132d4" d="M0 -5.28L3.83 -2.83L8.53 -4.58L4.70 -7.04z"/></g>
<g transform="translate(373.89,132.27)"><path fill="url(#pg)" d="M0 0L3.83 2.45v-5.28L0 -5.28z"/><path fill="url(#pg)" d="M3.83 2.45L8.53 0.70v-5.28L3.83 -2.83z"/><path fill="#4132d4" d="M0 -5.28L3.83 -2.83L8.53 -4.58L4.70 -7.04z"/></g>
<g transform="translate(368.01,134.46)"><path fill="url(#pg)" d="M0 0L3.83 2.45v-11.44L0 -11.44z"/><path fill="url(#pg)" d="M3.83 2.45L8.53 0.70v-11.44L3.83 -8.99z"/><path fill="#3d45f2" d="M0 -11.44L3.83 -8.99L8.53 -10.74L4.70 -13.20z"/></g>
<g transform="translate(362.13,136.66)"><path fill="url(#pg)" d="M0 0L3.83 2.45v-18.48L0 -18.48z"/><path fill="url(#pg)" d="M3.83 2.45L8.53 0.70v-18.48L3.83 -16.03z"/><path fill="#2c5efe" d="M0 -18.48L3.83 -16.03L8.53 -17.78L4.70 -20.24z"/></g>
<g transform="translate(356.26,138.85)"><path fill="url(#pg)" d="M0 0L3.83 2.45v-23.76L0 -23.76z"/><path fill="url(#pg)" d="M3.83 2.45L8.53 0.70v-23.76L3.83 -21.31z"/><path fill="#1676f8" d="M0 -23.76L3.83 -21.31L8.53 -23.06L4.70 -25.52z"/></g>
<g transform="translate(350.38,141.05)"><path fill="url(#pg)" d="M0 0L3.83 2.45v-26.40L0 -26.40z"/><path fill="url(#pg)" d="M3.83 2.45L8.53 0.70v-26.40L3.83 -23.95z"/><path fill="#1483f1" d="M0 -26.40L3.83 -23.95L8.53 -25.70L4.70 -28.16z"/></g>
<g transform="translate(344.50,143.24)"><path fill="#3e26a8" d="M0 -0.00L3.83 2.45L8.53 0.70L4.70 -1.76z"/></g>
<g transform="translate(338.63,145.44)"><path fill="#3e26a8" d="M0 -0.00L3.83 2.45L8.53 0.70L4.70 -1.76z"/></g>
<g transform="translate(332.75,147.63)"><path fill="#3e26a8" d="M0 -0.00L3.83 2.45L8.53 0.70L4.70 -1.76z"/></g>
<g transform="translate(326.88,149.83)"><path fill="#3e26a8" d="M0 -0.00L3.83 2.45L8.53 0.70L4.70 -1.76z"/></g>
<g transform="translate(321.00,152.02)"><path fill="#3e26a8" d="M0 -0.00L3.83 2.45L8.53 0.70L4.70 -1.76z"/></g>
<g transform="translate(437.44,113.38)"><path fill="#3e26a8" d="M0 -0.00L3.83 2.45L8.53 0.70L4.70 -1.76z"/></g>
<g transform="translate(431.56,115.58)"><path fill="#3e26a8" d="M0 -0.00L3.83 2.45L8.53 0.70L4.70 -1.76z"/></g>
<g transform="translate(425.69,117.77)"><path fill="#3e26a8" d="M0 -0.00L3.83 2.45L8.53 0.70L4.70 -1.76z"/></g>
<g transform="translate(419.81,119.97)"><path fill="#3e26a8" d="M0 -0.00L3.83 2.45L8.53 0.70L4.70 -1.76z"/></g>
<g transform="translate(413.93,122.16)"><path fill="url(#pg)" d="M0 0L3.83 2.45v-27.28L0 -27.28z"/><path fill="url(#pg)" d="M3.83 2.45L8.53 0.70v-27.28L3.83 -24.83z"/><path fill="#1387ee" d="M0 -27.28L3.83 -24.83L8.53 -26.58L4.70 -29.04z"/></g>
<g transform="translate(408.06,124.36)"><path fill="url(#pg)" d="M0 0L3.83 2.45v-27.28L0 -27.28z"/><path fill="url(#pg)" d="M3.83 2.45L8.53 0.70v-27.28L3.83 -24.83z"/><path fill="#1387ee" d="M0 -27.28L3.83 -24.83L8.53 -26.58L4.70 -29.04z"/></g>
<g transform="translate(402.18,126.55)"><path fill="url(#pg)" d="M0 0L3.83 2.45v-25.52L0 -25.52z"/><path fill="url(#pg)" d="M3.83 2.45L8.53 0.70v-25.52L3.83 -23.07z"/><path fill="#157ff3" d="M0 -25.52L3.83 -23.07L8.53 -24.82L4.70 -27.28z"/></g>
<g transform="translate(396.30,128.75)"><path fill="url(#pg)" d="M0 0L3.83 2.45v-19.36L0 -19.36z"/><path fill="url(#pg)" d="M3.83 2.45L8.53 0.70v-19.36L3.83 -16.91z"/><path fill="#2762ff" d="M0 -19.36L3.83 -16.91L8.53 -18.66L4.70 -21.12z"/></g>
<g transform="translate(390.43,130.94)"><path fill="url(#pg)" d="M0 0L3.83 2.45v-11.44L0 -11.44z"/><path fill="url(#pg)" d="M3.83 2.45L8.53 0.70v-11.44L3.83 -8.99z"/><path fill="#3d45f2" d="M0 -11.44L3.83 -8.99L8.53 -10.74L4.70 -13.20z"/></g>
<g transform="translate(384.55,133.14)"><path fill="url(#pg)" d="M0 0L3.83 2.45v-5.28L0 -5.28z"/><path fill="url(#pg)" d="M3.83 2.45L8.53 0.70v-5.28L3.83 -2.83z"/><path fill="#4132d4" d="M0 -5.28L3.83 -2.83L8.53 -4.58L4.70 -7.04z"/></g>
<g transform="translate(378.68,135.33)"><path fill="url(#pg)" d="M0 0L3.83 2.45v-5.28L0 -5.28z"/><path fill="url(#pg)" d="M3.83 2.45L8.53 0.70v-5.28L3.83 -2.83z"/><path fill="#4132d4" d="M0 -5.28L3.83 -2.83L8.53 -4.58L4.70 -7.04z"/></g>
<g transform="translate(372.80,137.53)"><path fill="url(#pg)" d="M0 0L3.83 2.45v-11.44L0 -11.44z"/><path fill="url(#pg)" d="M3.83 2.45L8.53 0.70v-11.44L3.83 -8.99z"/><path fill="#3d45f2" d="M0 -11.44L3.83 -8.99L8.53 -10.74L4.70 -13.20z"/></g>
<g transform="translate(366.92,139.72)"><path fill="url(#pg)" d="M0 0L3.83 2.45v-19.36L0 -19.36z"/><path fill="url(#pg)" d="M3.83 2.45L8.53 0.70v-19.36L3.83 -16.91z"/><path fill="#2762ff" d="M0 -19.36L3.83 -16.91L8.53 -18.66L4.70 -21.12z"/></g>
<g transform="translate(361.05,141.92)"><path fill="url(#pg)" d="M0 0L3.83 2.45v-25.52L0 -25.52z"/><path fill="url(#pg)" d="M3.83 2.45L8.53 0.70v-25.52L3.83 -23.07z"/><path fill="#157ff3" d="M0 -25.52L3.83 -23.07L8.53 -24.82L4.70 -27.28z"/></g>
<g transform="translate(355.17,144.11)"><path fill="url(#pg)" d="M0 0L3.83 2.45v-27.28L0 -27.28z"/><path fill="url(#pg)" d="M3.83 2.45L8.53 0.70v-27.28L3.83 -24.83z"/><path fill="#1387ee" d="M0 -27.28L3.83 -24.83L8.53 -26.58L4.70 -29.04z"/></g>
<g transform="translate(349.30,146.31)"><path fill="url(#pg)" d="M0 0L3.83 2.45v-27.28L0 -27.28z"/><path fill="url(#pg)" d="M3.83 2.45L8.53 0.70v-27.28L3.83 -24.83z"/><path fill="#1387ee" d="M0 -27.28L3.83 -24.83L8.53 -26.58L4.70 -29.04z"/></g>
<g transform="translate(343.42,148.50)"><path fill="#3e26a8" d="M0 -0.00L3.83 2.45L8.53 0.70L4.70 -1.76z"/></g>
<g transform="translate(337.54,150.70)"><path fill="#3e26a8" d="M0 -0.00L3.83 2.45L8.53 0.70L4.70 -1.76z"/></g>
<g transform="translate(331.67,152.89)"><path fill="#3e26a8" d="M0 -0.00L3.83 2.45L8.53 0.70L4.70 -1.76z"/></g>
<g transform="translate(325.79,155.09)"><path fill="#3e26a8" d="M0 -0.00L3.83 2.45L8.53 0.70L4.70 -1.76z"/></g>
<g transform="translate(442.23,116.45)"><path fill="#3e26a8" d="M0 -0.00L3.83 2.45L8.53 0.70L4.70 -1.76z"/></g>
<g transform="translate(436.35,118.64)"><path fill="#3e26a8" d="M0 -0.00L3.83 2.45L8.53 0.70L4.70 -1.76z"/></g>
<g transform="translate(430.48,120.84)"><path fill="#3e26a8" d="M0 -0.00L3.83 2.45L8.53 0.70L4.70 -1.76z"/></g>
<g transform="translate(424.60,123.03)"><path fill="url(#pg)" d="M0 0L3.83 2.45v-32.56L0 -32.56z"/><path fill="url(#pg)" d="M3.83 2.45L8.53 0.70v-32.56L3.83 -30.11z"/><path fill="#089de2" d="M0 -32.56L3.83 -30.11L8.53 -31.86L4.70 -34.32z"/></g>
<g transform="translate(418.72,125.23)"><path fill="url(#pg)" d="M0 0L3.83 2.45v-34.32L0 -34.32z"/><path fill="url(#pg)" d="M3.83 2.45L8.53 0.70v-34.32L3.83 -31.87z"/><path fill="#04a4de" d="M0 -34.32L3.83 -31.87L8.53 -33.62L4.70 -36.08z"/></g>
<g transform="translate(412.85,127.42)"><path fill="url(#pg)" d="M0 0L3.83 2.45v-32.56L0 -32.56z"/><path fill="url(#pg)" d="M3.83 2.45L8.53 0.70v-32.56L3.83 -30.11z"/><path fill="#089de2" d="M0 -32.56L3.83 -30.11L8.53 -31.86L4.70 -34.32z"/></g>
<g transform="translate(406.97,129.62)"><path fill="url(#pg)" d="M0 0L3.83 2.45v-29.04L0 -29.04z"/><path fill="url(#pg)" d="M3.83 2.45L8.53 0.70v-29.04L3.83 -26.59z"/><path fill="#0f8fea" d="M0 -29.04L3.83 -26.59L8.53 -28.34L4.70 -30.80z"/></g>
<g transform="translate(401.10,131.81)"><path fill="url(#pg)" d="M0 0L3.83 2.45v-23.76L0 -23.76z"/><path fill="url(#pg)" d="M3.83 2.45L8.53 0.70v-23.76L3.83 -21.31z"/><path fill="#1676f8" d="M0 -23.76L3.83 -21.31L8.53 -23.06L4.70 -25.52z"/></g>
<g transform="translate(395.22,134.01)"><path fill="url(#pg)" d="M0 0L3.83 2.45v-13.20L0 -13.20z"/><path fill="url(#pg)" d="M3.83 2.45L8.53 0.70v-13.20L3.83 -10.75z"/><path fill="#3a4bf7" d="M0 -13.20L3.83 -10.75L8.53 -12.50L4.70 -14.96z"/></g>
<g transform="translate(389.34,136.20)"><path fill="url(#pg)" d="M0 0L3.83 2.45v-5.28L0 -5.28z"/><path fill="url(#pg)" d="M3.83 2.45L8.53 0.70v-5.28L3.83 -2.83z"/><path fill="#4132d4" d="M0 -5.28L3.83 -2.83L8.53 -4.58L4.70 -7.04z"/></g>
<g transform="translate(383.47,138.40)"><path fill="url(#pg)" d="M0 0L3.83 2.45v-5.28L0 -5.28z"/><path fill="url(#pg)" d="M3.83 2.45L8.53 0.70v-5.28L3.83 -2.83z"/><path fill="#4132d4" d="M0 -5.28L3.83 -2.83L8.53 -4.58L4.70 -7.04z"/></g>
<g transform="translate(377.59,140.59)"><path fill="url(#pg)" d="M0 0L3.83 2.45v-13.20L0 -13.20z"/><path fill="url(#pg)" d="M3.83 2.45L8.53 0.70v-13.20L3.83 -10.75z"/><path fill="#3a4bf7" d="M0 -13.20L3.83 -10.75L8.53 -12.50L4.70 -14.96z"/></g>
<g transform="translate(371.71,142.79)"><path fill="url(#pg)" d="M0 0L3.83 2.45v-23.76L0 -23.76z"/><path fill="url(#pg)" d="M3.83 2.45L8.53 0.70v-23.76L3.83 -21.31z"/><path fill="#1676f8" d="M0 -23.76L3.83 -21.31L8.53 -23.06L4.70 -25.52z"/></g>
<g transform="translate(365.84,144.98)"><path fill="url(#pg)" d="M0 0L3.83 2.45v-29.04L0 -29.04z"/><path fill="url(#pg)" d="M3.83 2.45L8.53 0.70v-29.04L3.83 -26.59z"/><path fill="#0f8fea" d="M0 -29.04L3.83 -26.59L8.53 -28.34L4.70 -30.80z"/></g>
<g transform="translate(359.96,147.18)"><path fill="url(#pg)" d="M0 0L3.83 2.45v-32.56L0 -32.56z"/><path fill="url(#pg)" d="M3.83 2.45L8.53 0.70v-32.56L3.83 -30.11z"/><path fill="#089de2" d="M0 -32.56L3.83 -30.11L8.53 -31.86L4.70 -34.32z"/></g>
<g transform="translate(354.09,149.38)"><path fill="url(#pg)" d="M0 0L3.83 2.45v-34.32L0 -34.32z"/><path fill="url(#pg)" d="M3.83 2.45L8.53 0.70v-34.32L3.83 -31.87z"/><path fill="#04a4de" d="M0 -34.32L3.83 -31.87L8.53 -33.62L4.70 -36.08z"/></g>
<g transform="translate(348.21,151.57)"><path fill="url(#pg)" d="M0 0L3.83 2.45v-32.56L0 -32.56z"/><path fill="url(#pg)" d="M3.83 2.45L8.53 0.70v-32.56L3.83 -30.11z"/><path fill="#089de2" d="M0 -32.56L3.83 -30.11L8.53 -31.86L4.70 -34.32z"/></g>
<g transform="translate(342.33,153.77)"><path fill="#3e26a8" d="M0 -0.00L3.83 2.45L8.53 0.70L4.70 -1.76z"/></g>
<g transform="translate(336.46,155.96)"><path fill="#3e26a8" d="M0 -0.00L3.83 2.45L8.53 0.70L4.70 -1.76z"/></g>
<g transform="translate(330.58,158.16)"><path fill="#3e26a8" d="M0 -0.00L3.83 2.45L8.53 0.70L4.70 -1.76z"/></g>
<g transform="translate(447.02,119.51)"><path fill="#3e26a8" d="M0 -0.00L3.83 2.45L8.53 0.70L4.70 -1.76z"/></g>
<g transform="translate(441.14,121.71)"><path fill="#3e26a8" d="M0 -0.00L3.83 2.45L8.53 0.70L4.70 -1.76z"/></g>
<g transform="translate(435.27,123.90)"><path fill="url(#pg)" d="M0 0L3.83 2.45v-37.84L0 -37.84z"/><path fill="url(#pg)" d="M3.83 2.45L8.53 0.70v-37.84L3.83 -35.39z"/><path fill="#00b3d1" d="M0 -37.84L3.83 -35.39L8.53 -37.14L4.70 -39.60z"/></g>
<g transform="translate(429.39,126.10)"><path fill="url(#pg)" d="M0 0L3.83 2.45v-41.36L0 -41.36z"/><path fill="url(#pg)" d="M3.83 2.45L8.53 0.70v-41.36L3.83 -38.91z"/><path fill="#00bcc0" d="M0 -41.36L3.83 -38.91L8.53 -40.66L4.70 -43.12z"/></g>
<g transform="translate(423.51,128.29)"><path fill="url(#pg)" d="M0 0L3.83 2.45v-42.24L0 -42.24z"/><path fill="url(#pg)" d="M3.83 2.45L8.53 0.70v-42.24L3.83 -39.79z"/><path fill="#00bdbb" d="M0 -42.24L3.83 -39.79L8.53 -41.54L4.70 -44.00z"/></g>
<g transform="translate(417.64,130.49)"><path fill="url(#pg)" d="M0 0L3.83 2.45v-40.48L0 -40.48z"/><path fill="url(#pg)" d="M3.83 2.45L8.53 0.70v-40.48L3.83 -38.03z"/><path fill="#00bac4" d="M0 -40.48L3.83 -38.03L8.53 -39.78L4.70 -42.24z"/></g>
<g transform="translate(411.76,132.68)"><path fill="url(#pg)" d="M0 0L3.83 2.45v-36.96L0 -36.96z"/><path fill="url(#pg)" d="M3.83 2.45L8.53 0.70v-36.96L3.83 -34.51z"/><path fill="#00b0d4" d="M0 -36.96L3.83 -34.51L8.53 -36.26L4.70 -38.72z"/></g>
<g transform="translate(405.89,134.88)"><path fill="url(#pg)" d="M0 0L3.83 2.45v-29.92L0 -29.92z"/><path fill="url(#pg)" d="M3.83 2.45L8.53 0.70v-29.92L3.83 -27.47z"/><path fill="#0e93e7" d="M0 -29.92L3.83 -27.47L8.53 -29.22L4.70 -31.68z"/></g>
<g transform="translate(400.01,137.08)"><path fill="url(#pg)" d="M0 0L3.83 2.45v-17.60L0 -17.60z"/><path fill="url(#pg)" d="M3.83 2.45L8.53 0.70v-17.60L3.83 -15.15z"/><path fill="#305afe" d="M0 -17.60L3.83 -15.15L8.53 -16.90L4.70 -19.36z"/></g>
<g transform="translate(394.13,139.27)"><path fill="url(#pg)" d="M0 0L3.83 2.45v-6.16L0 -6.16z"/><path fill="url(#pg)" d="M3.83 2.45L8.53 0.70v-6.16L3.83 -3.71z"/><path fill="#4034da" d="M0 -6.16L3.83 -3.71L8.53 -5.46L4.70 -7.92z"/></g>
<g transform="translate(388.26,141.47)"><path fill="url(#pg)" d="M0 0L3.83 2.45v-6.16L0 -6.16z"/><path fill="url(#pg)" d="M3.83 2.45L8.53 0.70v-6.16L3.83 -3.71z"/><path fill="#4034da" d="M0 -6.16L3.83 -3.71L8.53 -5.46L4.70 -7.92z"/></g>
<g transform="translate(382.38,143.66)"><path fill="url(#pg)" d="M0 0L3.83 2.45v-17.60L0 -17.60z"/><path fill="url(#pg)" d="M3.83 2.45L8.53 0.70v-17.60L3.83 -15.15z"/><path fill="#305afe" d="M0 -17.60L3.83 -15.15L8.53 -16.90L4.70 -19.36z"/></g>
<g transform="translate(376.50,145.86)"><path fill="url(#pg)" d="M0 0L3.83 2.45v-29.92L0 -29.92z"/><path fill="url(#pg)" d="M3.83 2.45L8.53 0.70v-29.92L3.83 -27.47z"/><path fill="#0e93e7" d="M0 -29.92L3.83 -27.47L8.53 -29.22L4.70 -31.68z"/></g>
<g transform="translate(370.63,148.05)"><path fill="url(#pg)" d="M0 0L3.83 2.45v-36.96L0 -36.96z"/><path fill="url(#pg)" d="M3.83 2.45L8.53 0.70v-36.96L3.83 -34.51z"/><path fill="#00b0d4" d="M0 -36.96L3.83 -34.51L8.53 -36.26L4.70 -38.72z"/></g>
<g transform="translate(364.75,150.25)"><path fill="url(#pg)" d="M0 0L3.83 2.45v-40.48L0 -40.48z"/><path fill="url(#pg)" d="M3.83 2.45L8.53 0.70v-40.48L3.83 -38.03z"/><path fill="#00bac4" d="M0 -40.48L3.83 -38.03L8.53 -39.78L4.70 -42.24z"/></g>
<g transform="translate(358.88,152.44)"><path fill="url(#pg)" d="M0 0L3.83 2.45v-42.24L0 -42.24z"/><path fill="url(#pg)" d="M3.83 2.45L8.53 0.70v-42.24L3.83 -39.79z"/><path fill="#00bdbb" d="M0 -42.24L3.83 -39.79L8.53 -41.54L4.70 -44.00z"/></g>
<g transform="translate(353.00,154.64)"><path fill="url(#pg)" d="M0 0L3.83 2.45v-41.36L0 -41.36z"/><path fill="url(#pg)" d="M3.83 2.45L8.53 0.70v-41.36L3.83 -38.91z"/><path fill="#00bcc0" d="M0 -41.36L3.83 -38.91L8.53 -40.66L4.70 -43.12z"/></g>
<g transform="translate(347.12,156.83)"><path fill="url(#pg)" d="M0 0L3.83 2.45v-37.84L0 -37.84z"/><path fill="url(#pg)" d="M3.83 2.45L8.53 0.70v-37.84L3.83 -35.39z"/><path fill="#00b3d1" d="M0 -37.84L3.83 -35.39L8.53 -37.14L4.70 -39.60z"/></g>
<g transform="translate(341.25,159.03)"><path fill="#3e26a8" d="M0 -0.00L3.83 2.45L8.53 0.70L4.70 -1.76z"/></g>
<g transform="translate(335.37,161.22)"><path fill="#3e26a8" d="M0 -0.00L3.83 2.45L8.53 0.70L4.70 -1.76z"/></g>
<g transform="translate(451.81,122.58)"><path fill="#3e26a8" d="M0 -0.00L3.83 2.45L8.53 0.70L4.70 -1.76z"/></g>
<g transform="translate(445.93,124.78)"><path fill="url(#pg)" d="M0 0L3.83 2.45v-38.72L0 -38.72z"/><path fill="url(#pg)" d="M3.83 2.45L8.53 0.70v-38.72L3.83 -36.27z"/><path fill="#00b6cd" d="M0 -38.72L3.83 -36.27L8.53 -38.02L4.70 -40.48z"/></g>
<g transform="translate(440.06,126.97)"><path fill="url(#pg)" d="M0 0L3.83 2.45v-43.12L0 -43.12z"/><path fill="url(#pg)" d="M3.83 2.45L8.53 0.70v-43.12L3.83 -40.67z"/><path fill="#02bfb6" d="M0 -43.12L3.83 -40.67L8.53 -42.42L4.70 -44.88z"/></g>
<g transform="translate(434.18,129.17)"><path fill="url(#pg)" d="M0 0L3.83 2.45v-50.16L0 -50.16z"/><path fill="url(#pg)" d="M3.83 2.45L8.53 0.70v-50.16L3.83 -47.71z"/><path fill="#2fca87" d="M0 -50.16L3.83 -47.71L8.53 -49.46L4.70 -51.92z"/></g>
<g transform="translate(428.30,131.36)"><path fill="url(#pg)" d="M0 0L3.83 2.45v-51.04L0 -51.04z"/><path fill="url(#pg)" d="M3.83 2.45L8.53 0.70v-51.04L3.83 -48.59z"/><path fill="#37cb7f" d="M0 -51.04L3.83 -48.59L8.53 -50.34L4.70 -52.80z"/></g>
<g transform="translate(422.43,133.56)"><path fill="url(#pg)" d="M0 0L3.83 2.45v-49.28L0 -49.28z"/><path fill="url(#pg)" d="M3.83 2.45L8.53 0.70v-49.28L3.83 -46.83z"/><path fill="#29c98d" d="M0 -49.28L3.83 -46.83L8.53 -48.58L4.70 -51.04z"/></g>
<g transform="translate(416.55,135.75)"><path fill="url(#pg)" d="M0 0L3.83 2.45v-44.00L0 -44.00z"/><path fill="url(#pg)" d="M3.83 2.45L8.53 0.70v-44.00L3.83 -41.55z"/><path fill="#0ac0b1" d="M0 -44.00L3.83 -41.55L8.53 -43.30L4.70 -45.76z"/></g>
<g transform="translate(410.68,137.95)"><path fill="url(#pg)" d="M0 0L3.83 2.45v-36.08L0 -36.08z"/><path fill="url(#pg)" d="M3.83 2.45L8.53 0.70v-36.08L3.83 -33.63z"/><path fill="#00acd8" d="M0 -36.08L3.83 -33.63L8.53 -35.38L4.70 -37.84z"/></g>
<g transform="translate(404.80,140.14)"><path fill="url(#pg)" d="M0 0L3.83 2.45v-25.52L0 -25.52z"/><path fill="url(#pg)" d="M3.83 2.45L8.53 0.70v-25.52L3.83 -23.07z"/><path fill="#157ff3" d="M0 -25.52L3.83 -23.07L8.53 -24.82L4.70 -27.28z"/></g>
<g transform="translate(398.92,142.34)"><path fill="url(#pg)" d="M0 0L3.83 2.45v-7.92L0 -7.92z"/><path fill="url(#pg)" d="M3.83 2.45L8.53 0.70v-7.92L3.83 -5.47z"/><path fill="#4039e4" d="M0 -7.92L3.83 -5.47L8.53 -7.22L4.70 -9.68z"/></g>
<g transform="translate(393.05,144.53)"><path fill="url(#pg)" d="M0 0L3.83 2.45v-7.92L0 -7.92z"/><path fill="url(#pg)" d="M3.83 2.45L8.53 0.70v-7.92L3.83 -5.47z"/><path fill="#4039e4" d="M0 -7.92L3.83 -5.47L8.53 -7.22L4.70 -9.68z"/></g>
<g transform="translate(387.17,146.73)"><path fill="url(#pg)" d="M0 0L3.83 2.45v-25.52L0 -25.52z"/><path fill="url(#pg)" d="M3.83 2.45L8.53 0.70v-25.52L3.83 -23.07z"/><path fill="#157ff3" d="M0 -25.52L3.83 -23.07L8.53 -24.82L4.70 -27.28z"/></g>
<g transform="translate(381.30,148.92)"><path fill="url(#pg)" d="M0 0L3.83 2.45v-36.08L0 -36.08z"/><path fill="url(#pg)" d="M3.83 2.45L8.53 0.70v-36.08L3.83 -33.63z"/><path fill="#00acd8" d="M0 -36.08L3.83 -33.63L8.53 -35.38L4.70 -37.84z"/></g>
<g transform="translate(375.42,151.12)"><path fill="url(#pg)" d="M0 0L3.83 2.45v-44.00L0 -44.00z"/><path fill="url(#pg)" d="M3.83 2.45L8.53 0.70v-44.00L3.83 -41.55z"/><path fill="#0ac0b1" d="M0 -44.00L3.83 -41.55L8.53 -43.30L4.70 -45.76z"/></g>
<g transform="translate(369.54,153.31)"><path fill="url(#pg)" d="M0 0L3.83 2.45v-49.28L0 -49.28z"/><path fill="url(#pg)" d="M3.83 2.45L8.53 0.70v-49.28L3.83 -46.83z"/><path fill="#29c98d" d="M0 -49.28L3.83 -46.83L8.53 -48.58L4.70 -51.04z"/></g>
<g transform="translate(363.67,155.51)"><path fill="url(#pg)" d="M0 0L3.83 2.45v-51.04L0 -51.04z"/><path fill="url(#pg)" d="M3.83 2.45L8.53 0.70v-51.04L3.83 -48.59z"/><path fill="#37cb7f" d="M0 -51.04L3.83 -48.59L8.53 -50.34L4.70 -52.80z"/></g>
<g transform="translate(357.79,157.70)"><path fill="url(#pg)" d="M0 0L3.83 2.45v-50.16L0 -50.16z"/><path fill="url(#pg)" d="M3.83 2.45L8.53 0.70v-50.16L3.83 -47.71z"/><path fill="#2fca87" d="M0 -50.16L3.83 -47.71L8.53 -49.46L4.70 -51.92z"/></g>
<g transform="translate(351.91,159.90)"><path fill="url(#pg)" d="M0 0L3.83 2.45v-43.12L0 -43.12z"/><path fill="url(#pg)" d="M3.83 2.45L8.53 0.70v-43.12L3.83 -40.67z"/><path fill="#02bfb6" d="M0 -43.12L3.83 -40.67L8.53 -42.42L4.70 -44.88z"/></g>
<g transform="translate(346.04,162.09)"><path fill="url(#pg)" d="M0 0L3.83 2.45v-38.72L0 -38.72z"/><path fill="url(#pg)" d="M3.83 2.45L8.53 0.70v-38.72L3.83 -36.27z"/><path fill="#00b6cd" d="M0 -38.72L3.83 -36.27L8.53 -38.02L4.70 -40.48z"/></g>
<g transform="translate(340.16,164.29)"><path fill="#3e26a8" d="M0 -0.00L3.83 2.45L8.53 0.70L4.70 -1.76z"/></g>
<g transform="translate(456.60,125.65)"><path fill="url(#pg)" d="M0 0L3.83 2.45v-52.80L0 -52.80z"/><path fill="url(#pg)" d="M3.83 2.45L8.53 0.70v-52.80L3.83 -50.35z"/><path fill="#48cc71" d="M0 -52.80L3.83 -50.35L8.53 -52.10L4.70 -54.56z"/></g>
<g transform="translate(450.72,127.84)"><path fill="url(#pg)" d="M0 0L3.83 2.45v-46.64L0 -46.64z"/><path fill="url(#pg)" d="M3.83 2.45L8.53 0.70v-46.64L3.83 -44.19z"/><path fill="#1cc5a0" d="M0 -46.64L3.83 -44.19L8.53 -45.94L4.70 -48.40z"/></g>
<g transform="translate(444.85,130.04)"><path fill="url(#pg)" d="M0 0L3.83 2.45v-52.80L0 -52.80z"/><path fill="url(#pg)" d="M3.83 2.45L8.53 0.70v-52.80L3.83 -50.35z"/><path fill="#48cc71" d="M0 -52.80L3.83 -50.35L8.53 -52.10L4.70 -54.56z"/></g>
<g transform="translate(438.97,132.23)"><path fill="url(#pg)" d="M0 0L3.83 2.45v-58.96L0 -58.96z"/><path fill="url(#pg)" d="M3.83 2.45L8.53 0.70v-58.96L3.83 -56.51z"/><path fill="#90ca38" d="M0 -58.96L3.83 -56.51L8.53 -58.26L4.70 -60.72z"/></g>
<g transform="translate(433.10,134.43)"><path fill="url(#pg)" d="M0 0L3.83 2.45v-62.48L0 -62.48z"/><path fill="url(#pg)" d="M3.83 2.45L8.53 0.70v-62.48L3.83 -60.03z"/><path fill="#b9c41e" d="M0 -62.48L3.83 -60.03L8.53 -61.78L4.70 -64.24z"/></g>
<g transform="translate(427.22,136.62)"><path fill="url(#pg)" d="M0 0L3.83 2.45v-58.96L0 -58.96z"/><path fill="url(#pg)" d="M3.83 2.45L8.53 0.70v-58.96L3.83 -56.51z"/><path fill="#90ca38" d="M0 -58.96L3.83 -56.51L8.53 -58.26L4.70 -60.72z"/></g>
<g transform="translate(421.34,138.82)"><path fill="url(#pg)" d="M0 0L3.83 2.45v-52.80L0 -52.80z"/><path fill="url(#pg)" d="M3.83 2.45L8.53 0.70v-52.80L3.83 -50.35z"/><path fill="#48cc71" d="M0 -52.80L3.83 -50.35L8.53 -52.10L4.70 -54.56z"/></g>
<g transform="translate(415.47,141.01)"><path fill="url(#pg)" d="M0 0L3.83 2.45v-43.12L0 -43.12z"/><path fill="url(#pg)" d="M3.83 2.45L8.53 0.70v-43.12L3.83 -40.67z"/><path fill="#02bfb6" d="M0 -43.12L3.83 -40.67L8.53 -42.42L4.70 -44.88z"/></g>
<g transform="translate(409.59,143.21)"><path fill="url(#pg)" d="M0 0L3.83 2.45v-29.04L0 -29.04z"/><path fill="url(#pg)" d="M3.83 2.45L8.53 0.70v-29.04L3.83 -26.59z"/><path fill="#0f8fea" d="M0 -29.04L3.83 -26.59L8.53 -28.34L4.70 -30.80z"/></g>
<g transform="translate(403.71,145.40)"><path fill="url(#pg)" d="M0 0L3.83 2.45v-8.80L0 -8.80z"/><path fill="url(#pg)" d="M3.83 2.45L8.53 0.70v-8.80L3.83 -6.35z"/><path fill="#3f3ce8" d="M0 -8.80L3.83 -6.35L8.53 -8.10L4.70 -10.56z"/></g>
<g transform="translate(397.84,147.60)"><path fill="url(#pg)" d="M0 0L3.83 2.45v-8.80L0 -8.80z"/><path fill="url(#pg)" d="M3.83 2.45L8.53 0.70v-8.80L3.83 -6.35z"/><path fill="#3f3ce8" d="M0 -8.80L3.83 -6.35L8.53 -8.10L4.70 -10.56z"/></g>
<g transform="translate(391.96,149.79)"><path fill="url(#pg)" d="M0 0L3.83 2.45v-29.04L0 -29.04z"/><path fill="url(#pg)" d="M3.83 2.45L8.53 0.70v-29.04L3.83 -26.59z"/><path fill="#0f8fea" d="M0 -29.04L3.83 -26.59L8.53 -28.34L4.70 -30.80z"/></g>
<g transform="translate(386.09,151.99)"><path fill="url(#pg)" d="M0 0L3.83 2.45v-43.12L0 -43.12z"/><path fill="url(#pg)" d="M3.83 2.45L8.53 0.70v-43.12L3.83 -40.67z"/><path fill="#02bfb6" d="M0 -43.12L3.83 -40.67L8.53 -42.42L4.70 -44.88z"/></g>
<g transform="translate(380.21,154.18)"><path fill="url(#pg)" d="M0 0L3.83 2.45v-52.80L0 -52.80z"/><path fill="url(#pg)" d="M3.83 2.45L8.53 0.70v-52.80L3.83 -50.35z"/><path fill="#48cc71" d="M0 -52.80L3.83 -50.35L8.53 -52.10L4.70 -54.56z"/></g>
<g transform="translate(374.33,156.38)"><path fill="url(#pg)" d="M0 0L3.83 2.45v-58.96L0 -58.96z"/><path fill="url(#pg)" d="M3.83 2.45L8.53 0.70v-58.96L3.83 -56.51z"/><path fill="#90ca38" d="M0 -58.96L3.83 -56.51L8.53 -58.26L4.70 -60.72z"/></g>
<g transform="translate(368.46,158.58)"><path fill="url(#pg)" d="M0 0L3.83 2.45v-62.48L0 -62.48z"/><path fill="url(#pg)" d="M3.83 2.45L8.53 0.70v-62.48L3.83 -60.03z"/><path fill="#b9c41e" d="M0 -62.48L3.83 -60.03L8.53 -61.78L4.70 -64.24z"/></g>
<g transform="translate(362.58,160.77)"><path fill="url(#pg)" d="M0 0L3.83 2.45v-58.96L0 -58.96z"/><path fill="url(#pg)" d="M3.83 2.45L8.53 0.70v-58.96L3.83 -56.51z"/><path fill="#90ca38" d="M0 -58.96L3.83 -56.51L8.53 -58.26L4.70 -60.72z"/></g>
<g transform="translate(356.70,162.97)"><path fill="url(#pg)" d="M0 0L3.83 2.45v-52.80L0 -52.80z"/><path fill="url(#pg)" d="M3.83 2.45L8.53 0.70v-52.80L3.83 -50.35z"/><path fill="#48cc71" d="M0 -52.80L3.83 -50.35L8.53 -52.10L4.70 -54.56z"/></g>
<g transform="translate(350.83,165.16)"><path fill="url(#pg)" d="M0 0L3.83 2.45v-46.64L0 -46.64z"/><path fill="url(#pg)" d="M3.83 2.45L8.53 0.70v-46.64L3.83 -44.19z"/><path fill="#1cc5a0" d="M0 -46.64L3.83 -44.19L8.53 -45.94L4.70 -48.40z"/></g>
<g transform="translate(344.95,167.36)"><path fill="url(#pg)" d="M0 0L3.83 2.45v-52.80L0 -52.80z"/><path fill="url(#pg)" d="M3.83 2.45L8.53 0.70v-52.80L3.83 -50.35z"/><path fill="#48cc71" d="M0 -52.80L3.83 -50.35L8.53 -52.10L4.70 -54.56z"/></g>
<g transform="translate(461.39,128.71)"><path fill="url(#pg)" d="M0 0L3.83 2.45v-58.96L0 -58.96z"/><path fill="url(#pg)" d="M3.83 2.45L8.53 0.70v-58.96L3.83 -56.51z"/><path fill="#90ca38" d="M0 -58.96L3.83 -56.51L8.53 -58.26L4.70 -60.72z"/></g>
<g transform="translate(455.51,130.91)"><path fill="url(#pg)" d="M0 0L3.83 2.45v-52.80L0 -52.80z"/><path fill="url(#pg)" d="M3.83 2.45L8.53 0.70v-52.80L3.83 -50.35z"/><path fill="#48cc71" d="M0 -52.80L3.83 -50.35L8.53 -52.10L4.70 -54.56z"/></g>
<g transform="translate(449.64,133.10)"><path fill="url(#pg)" d="M0 0L3.83 2.45v-58.96L0 -58.96z"/><path fill="url(#pg)" d="M3.83 2.45L8.53 0.70v-58.96L3.83 -56.51z"/><path fill="#90ca38" d="M0 -58.96L3.83 -56.51L8.53 -58.26L4.70 -60.72z"/></g>
<g transform="translate(443.76,135.30)"><path fill="url(#pg)" d="M0 0L3.83 2.45v-70.40L0 -70.40z"/><path fill="url(#pg)" d="M3.83 2.45L8.53 0.70v-70.40L3.83 -67.95z"/><path fill="#f8b326" d="M0 -70.40L3.83 -67.95L8.53 -69.70L4.70 -72.16z"/></g>
<g transform="translate(437.89,137.49)"><path fill="url(#pg)" d="M0 0L3.83 2.45v-71.28L0 -71.28z"/><path fill="url(#pg)" d="M3.83 2.45L8.53 0.70v-71.28L3.83 -68.83z"/><path fill="#fcb526" d="M0 -71.28L3.83 -68.83L8.53 -70.58L4.70 -73.04z"/></g>
<g transform="translate(432.01,139.69)"><path fill="url(#pg)" d="M0 0L3.83 2.45v-70.40L0 -70.40z"/><path fill="url(#pg)" d="M3.83 2.45L8.53 0.70v-70.40L3.83 -67.95z"/><path fill="#f8b326" d="M0 -70.40L3.83 -67.95L8.53 -69.70L4.70 -72.16z"/></g>
<g transform="translate(426.13,141.88)"><path fill="url(#pg)" d="M0 0L3.83 2.45v-59.84L0 -59.84z"/><path fill="url(#pg)" d="M3.83 2.45L8.53 0.70v-59.84L3.83 -57.39z"/><path fill="#9bc831" d="M0 -59.84L3.83 -57.39L8.53 -59.14L4.70 -61.60z"/></g>
<g transform="translate(420.26,144.08)"><path fill="url(#pg)" d="M0 0L3.83 2.45v-50.16L0 -50.16z"/><path fill="url(#pg)" d="M3.83 2.45L8.53 0.70v-50.16L3.83 -47.71z"/><path fill="#2fca87" d="M0 -50.16L3.83 -47.71L8.53 -49.46L4.70 -51.92z"/></g>
<g transform="translate(414.38,146.28)"><path fill="url(#pg)" d="M0 0L3.83 2.45v-32.56L0 -32.56z"/><path fill="url(#pg)" d="M3.83 2.45L8.53 0.70v-32.56L3.83 -30.11z"/><path fill="#089de2" d="M0 -32.56L3.83 -30.11L8.53 -31.86L4.70 -34.32z"/></g>
<g transform="translate(408.50,148.47)"><path fill="url(#pg)" d="M0 0L3.83 2.45v-10.56L0 -10.56z"/><path fill="url(#pg)" d="M3.83 2.45L8.53 0.70v-10.56L3.83 -8.11z"/><path fill="#3e42ef" d="M0 -10.56L3.83 -8.11L8.53 -9.86L4.70 -12.32z"/></g>
<g transform="translate(402.63,150.67)"><path fill="url(#pg)" d="M0 0L3.83 2.45v-10.56L0 -10.56z"/><path fill="url(#pg)" d="M3.83 2.45L8.53 0.70v-10.56L3.83 -8.11z"/><path fill="#3e42ef" d="M0 -10.56L3.83 -8.11L8.53 -9.86L4.70 -12.32z"/></g>
<g transform="translate(396.75,152.86)"><path fill="url(#pg)" d="M0 0L3.83 2.45v-32.56L0 -32.56z"/><path fill="url(#pg)" d="M3.83 2.45L8.53 0.70v-32.56L3.83 -30.11z"/><path fill="#089de2" d="M0 -32.56L3.83 -30.11L8.53 -31.86L4.70 -34.32z"/></g>
<g transform="translate(390.88,155.06)"><path fill="url(#pg)" d="M0 0L3.83 2.45v-50.16L0 -50.16z"/><path fill="url(#pg)" d="M3.83 2.45L8.53 0.70v-50.16L3.83 -47.71z"/><path fill="#2fca87" d="M0 -50.16L3.83 -47.71L8.53 -49.46L4.70 -51.92z"/></g>
<g transform="translate(385.00,157.25)"><path fill="url(#pg)" d="M0 0L3.83 2.45v-59.84L0 -59.84z"/><path fill="url(#pg)" d="M3.83 2.45L8.53 0.70v-59.84L3.83 -57.39z"/><path fill="#9bc831" d="M0 -59.84L3.83 -57.39L8.53 -59.14L4.70 -61.60z"/></g>
<g transform="translate(379.12,159.45)"><path fill="url(#pg)" d="M0 0L3.83 2.45v-70.40L0 -70.40z"/><path fill="url(#pg)" d="M3.83 2.45L8.53 0.70v-70.40L3.83 -67.95z"/><path fill="#f8b326" d="M0 -70.40L3.83 -67.95L8.53 -69.70L4.70 -72.16z"/></g>
<g transform="translate(373.25,161.64)"><path fill="url(#pg)" d="M0 0L3.83 2.45v-71.28L0 -71.28z"/><path fill="url(#pg)" d="M3.83 2.45L8.53 0.70v-71.28L3.83 -68.83z"/><path fill="#fcb526" d="M0 -71.28L3.83 -68.83L8.53 -70.58L4.70 -73.04z"/></g>
<g transform="translate(367.37,163.84)"><path fill="url(#pg)" d="M0 0L3.83 2.45v-70.40L0 -70.40z"/><path fill="url(#pg)" d="M3.83 2.45L8.53 0.70v-70.40L3.83 -67.95z"/><path fill="#f8b326" d="M0 -70.40L3.83 -67.95L8.53 -69.70L4.70 -72.16z"/></g>
<g transform="translate(361.50,166.03)"><path fill="url(#pg)" d="M0 0L3.83 2.45v-58.96L0 -58.96z"/><path fill="url(#pg)" d="M3.83 2.45L8.53 0.70v-58.96L3.83 -56.51z"/><path fill="#90ca38" d="M0 -58.96L3.83 -56.51L8.53 -58.26L4.70 -60.72z"/></g>
<g transform="translate(355.62,168.23)"><path fill="url(#pg)" d="M0 0L3.83 2.45v-52.80L0 -52.80z"/><path fill="url(#pg)" d="M3.83 2.45L8.53 0.70v-52.80L3.83 -50.35z"/><path fill="#48cc71" d="M0 -52.80L3.83 -50.35L8.53 -52.10L4.70 -54.56z"/></g>
<g transform="translate(349.74,170.42)"><path fill="url(#pg)" d="M0 0L3.83 2.45v-58.96L0 -58.96z"/><path fill="url(#pg)" d="M3.83 2.45L8.53 0.70v-58.96L3.83 -56.51z"/><path fill="#90ca38" d="M0 -58.96L3.83 -56.51L8.53 -58.26L4.70 -60.72z"/></g>
<g transform="translate(466.18,131.78)"><path fill="url(#pg)" d="M0 0L3.83 2.45v-65.12L0 -65.12z"/><path fill="url(#pg)" d="M3.83 2.45L8.53 0.70v-65.12L3.83 -62.67z"/><path fill="#d2bd13" d="M0 -65.12L3.83 -62.67L8.53 -64.42L4.70 -66.88z"/></g>
<g transform="translate(460.30,133.98)"><path fill="url(#pg)" d="M0 0L3.83 2.45v-57.20L0 -57.20z"/><path fill="url(#pg)" d="M3.83 2.45L8.53 0.70v-57.20L3.83 -54.75z"/><path fill="#7bcc48" d="M0 -57.20L3.83 -54.75L8.53 -56.50L4.70 -58.96z"/></g>
<g transform="translate(454.43,136.17)"><path fill="url(#pg)" d="M0 0L3.83 2.45v-66.88L0 -66.88z"/><path fill="url(#pg)" d="M3.83 2.45L8.53 0.70v-66.88L3.83 -64.43z"/><path fill="#e0b815" d="M0 -66.88L3.83 -64.43L8.53 -66.18L4.70 -68.64z"/></g>
<g transform="translate(448.55,138.37)"><path fill="url(#pg)" d="M0 0L3.83 2.45v-74.80L0 -74.80z"/><path fill="url(#pg)" d="M3.83 2.45L8.53 0.70v-74.80L3.83 -72.35z"/><path fill="#fdc41b" d="M0 -74.80L3.83 -72.35L8.53 -74.10L4.70 -76.56z"/></g>
<g transform="translate(442.68,140.56)"><path fill="url(#pg)" d="M0 0L3.83 2.45v-77.44L0 -77.44z"/><path fill="url(#pg)" d="M3.83 2.45L8.53 0.70v-77.44L3.83 -74.99z"/><path fill="#f9d314" d="M0 -77.44L3.83 -74.99L8.53 -76.74L4.70 -79.20z"/></g>
<g transform="translate(436.80,142.76)"><path fill="url(#pg)" d="M0 0L3.83 2.45v-74.80L0 -74.80z"/><path fill="url(#pg)" d="M3.83 2.45L8.53 0.70v-74.80L3.83 -72.35z"/><path fill="#fdc41b" d="M0 -74.80L3.83 -72.35L8.53 -74.10L4.70 -76.56z"/></g>
<g transform="translate(430.92,144.95)"><path fill="url(#pg)" d="M0 0L3.83 2.45v-67.76L0 -67.76z"/><path fill="url(#pg)" d="M3.83 2.45L8.53 0.70v-67.76L3.83 -65.31z"/><path fill="#e6b617" d="M0 -67.76L3.83 -65.31L8.53 -67.06L4.70 -69.52z"/></g>
<g transform="translate(425.05,147.15)"><path fill="url(#pg)" d="M0 0L3.83 2.45v-53.68L0 -53.68z"/><path fill="url(#pg)" d="M3.83 2.45L8.53 0.70v-53.68L3.83 -51.23z"/><path fill="#52cd69" d="M0 -53.68L3.83 -51.23L8.53 -52.98L4.70 -55.44z"/></g>
<g transform="translate(419.17,149.34)"><path fill="url(#pg)" d="M0 0L3.83 2.45v-34.32L0 -34.32z"/><path fill="url(#pg)" d="M3.83 2.45L8.53 0.70v-34.32L3.83 -31.87z"/><path fill="#04a4de" d="M0 -34.32L3.83 -31.87L8.53 -33.62L4.70 -36.08z"/></g>
<g transform="translate(413.30,151.54)"><path fill="url(#pg)" d="M0 0L3.83 2.45v-12.32L0 -12.32z"/><path fill="url(#pg)" d="M3.83 2.45L8.53 0.70v-12.32L3.83 -9.87z"/><path fill="#3c48f5" d="M0 -12.32L3.83 -9.87L8.53 -11.62L4.70 -14.08z"/></g>
<g transform="translate(407.42,153.73)"><path fill="url(#pg)" d="M0 0L3.83 2.45v-12.32L0 -12.32z"/><path fill="url(#pg)" d="M3.83 2.45L8.53 0.70v-12.32L3.83 -9.87z"/><path fill="#3c48f5" d="M0 -12.32L3.83 -9.87L8.53 -11.62L4.70 -14.08z"/></g>
<g transform="translate(401.54,155.93)"><path fill="url(#pg)" d="M0 0L3.83 2.45v-34.32L0 -34.32z"/><path fill="url(#pg)" d="M3.83 2.45L8.53 0.70v-34.32L3.83 -31.87z"/><path fill="#04a4de" d="M0 -34.32L3.83 -31.87L8.53 -33.62L4.70 -36.08z"/></g>
<g transform="translate(395.67,158.12)"><path fill="url(#pg)" d="M0 0L3.83 2.45v-53.68L0 -53.68z"/><path fill="url(#pg)" d="M3.83 2.45L8.53 0.70v-53.68L3.83 -51.23z"/><path fill="#52cd69" d="M0 -53.68L3.83 -51.23L8.53 -52.98L4.70 -55.44z"/></g>
<g transform="translate(389.79,160.32)"><path fill="url(#pg)" d="M0 0L3.83 2.45v-67.76L0 -67.76z"/><path fill="url(#pg)" d="M3.83 2.45L8.53 0.70v-67.76L3.83 -65.31z"/><path fill="#e6b617" d="M0 -67.76L3.83 -65.31L8.53 -67.06L4.70 -69.52z"/></g>
<g transform="translate(383.91,162.51)"><path fill="url(#pg)" d="M0 0L3.83 2.45v-74.80L0 -74.80z"/><path fill="url(#pg)" d="M3.83 2.45L8.53 0.70v-74.80L3.83 -72.35z"/><path fill="#fdc41b" d="M0 -74.80L3.83 -72.35L8.53 -74.10L4.70 -76.56z"/></g>
<g transform="translate(378.04,164.71)"><path fill="url(#pg)" d="M0 0L3.83 2.45v-77.44L0 -77.44z"/><path fill="url(#pg)" d="M3.83 2.45L8.53 0.70v-77.44L3.83 -74.99z"/><path fill="#f9d314" d="M0 -77.44L3.83 -74.99L8.53 -76.74L4.70 -79.20z"/></g>
<g transform="translate(372.16,166.90)"><path fill="url(#pg)" d="M0 0L3.83 2.45v-74.80L0 -74.80z"/><path fill="url(#pg)" d="M3.83 2.45L8.53 0.70v-74.80L3.83 -72.35z"/><path fill="#fdc41b" d="M0 -74.80L3.83 -72.35L8.53 -74.10L4.70 -76.56z"/></g>
<g transform="translate(366.29,169.10)"><path fill="url(#pg)" d="M0 0L3.83 2.45v-66.88L0 -66.88z"/><path fill="url(#pg)" d="M3.83 2.45L8.53 0.70v-66.88L3.83 -64.43z"/><path fill="#e0b815" d="M0 -66.88L3.83 -64.43L8.53 -66.18L4.70 -68.64z"/></g>
<g transform="translate(360.41,171.29)"><path fill="url(#pg)" d="M0 0L3.83 2.45v-57.20L0 -57.20z"/><path fill="url(#pg)" d="M3.83 2.45L8.53 0.70v-57.20L3.83 -54.75z"/><path fill="#7bcc48" d="M0 -57.20L3.83 -54.75L8.53 -56.50L4.70 -58.96z"/></g>
<g transform="translate(354.53,173.49)"><path fill="url(#pg)" d="M0 0L3.83 2.45v-65.12L0 -65.12z"/><path fill="url(#pg)" d="M3.83 2.45L8.53 0.70v-65.12L3.83 -62.67z"/><path fill="#d2bd13" d="M0 -65.12L3.83 -62.67L8.53 -64.42L4.70 -66.88z"/></g>
<g transform="translate(470.97,134.85)"><path fill="url(#pg)" d="M0 0L3.83 2.45v-70.40L0 -70.40z"/><path fill="url(#pg)" d="M3.83 2.45L8.53 0.70v-70.40L3.83 -67.95z"/><path fill="#f8b326" d="M0 -70.40L3.83 -67.95L8.53 -69.70L4.70 -72.16z"/></g>
<g transform="translate(465.10,137.04)"><path fill="url(#pg)" d="M0 0L3.83 2.45v-63.36L0 -63.36z"/><path fill="url(#pg)" d="M3.83 2.45L8.53 0.70v-63.36L3.83 -60.91z"/><path fill="#c2c219" d="M0 -63.36L3.83 -60.91L8.53 -62.66L4.70 -65.12z"/></g>
<g transform="translate(459.22,139.24)"><path fill="url(#pg)" d="M0 0L3.83 2.45v-70.40L0 -70.40z"/><path fill="url(#pg)" d="M3.83 2.45L8.53 0.70v-70.40L3.83 -67.95z"/><path fill="#f8b326" d="M0 -70.40L3.83 -67.95L8.53 -69.70L4.70 -72.16z"/></g>
<g transform="translate(453.34,141.43)"><path fill="url(#pg)" d="M0 0L3.83 2.45v-80.08L0 -80.08z"/><path fill="url(#pg)" d="M3.83 2.45L8.53 0.70v-80.08L3.83 -77.63z"/><path fill="#f5e10e" d="M0 -80.08L3.83 -77.63L8.53 -79.38L4.70 -81.84z"/></g>
<g transform="translate(447.47,143.63)"><path fill="url(#pg)" d="M0 0L3.83 2.45v-83.60L0 -83.60z"/><path fill="url(#pg)" d="M3.83 2.45L8.53 0.70v-83.60L3.83 -81.15z"/><path fill="#f7f303" d="M0 -83.60L3.83 -81.15L8.53 -82.90L4.70 -85.36z"/></g>
<g transform="translate(441.59,145.82)"><path fill="url(#pg)" d="M0 0L3.83 2.45v-80.08L0 -80.08z"/><path fill="url(#pg)" d="M3.83 2.45L8.53 0.70v-80.08L3.83 -77.63z"/><path fill="#f5e10e" d="M0 -80.08L3.83 -77.63L8.53 -79.38L4.70 -81.84z"/></g>
<g transform="translate(435.71,148.02)"><path fill="url(#pg)" d="M0 0L3.83 2.45v-70.40L0 -70.40z"/><path fill="url(#pg)" d="M3.83 2.45L8.53 0.70v-70.40L3.83 -67.95z"/><path fill="#f8b326" d="M0 -70.40L3.83 -67.95L8.53 -69.70L4.70 -72.16z"/></g>
<g transform="translate(429.84,150.21)"><path fill="url(#pg)" d="M0 0L3.83 2.45v-54.56L0 -54.56z"/><path fill="url(#pg)" d="M3.83 2.45L8.53 0.70v-54.56L3.83 -52.11z"/><path fill="#5bcd60" d="M0 -54.56L3.83 -52.11L8.53 -53.86L4.70 -56.32z"/></g>
<g transform="translate(423.96,152.41)"><path fill="url(#pg)" d="M0 0L3.83 2.45v-35.20L0 -35.20z"/><path fill="url(#pg)" d="M3.83 2.45L8.53 0.70v-35.20L3.83 -32.75z"/><path fill="#01a8db" d="M0 -35.20L3.83 -32.75L8.53 -34.50L4.70 -36.96z"/></g>
<g transform="translate(418.09,154.60)"><path fill="url(#pg)" d="M0 0L3.83 2.45v-14.08L0 -14.08z"/><path fill="url(#pg)" d="M3.83 2.45L8.53 0.70v-14.08L3.83 -11.63z"/><path fill="#394ef9" d="M0 -14.08L3.83 -11.63L8.53 -13.38L4.70 -15.84z"/></g>
<g transform="translate(412.21,156.80)"><path fill="url(#pg)" d="M0 0L3.83 2.45v-14.08L0 -14.08z"/><path fill="url(#pg)" d="M3.83 2.45L8.53 0.70v-14.08L3.83 -11.63z"/><path fill="#394ef9" d="M0 -14.08L3.83 -11.63L8.53 -13.38L4.70 -15.84z"/></g>
<g transform="translate(406.33,158.99)"><path fill="url(#pg)" d="M0 0L3.83 2.45v-35.20L0 -35.20z"/><path fill="url(#pg)" d="M3.83 2.45L8.53 0.70v-35.20L3.83 -32.75z"/><path fill="#01a8db" d="M0 -35.20L3.83 -32.75L8.53 -34.50L4.70 -36.96z"/></g>
<g transform="translate(400.46,161.19)"><path fill="url(#pg)" d="M0 0L3.83 2.45v-54.56L0 -54.56z"/><path fill="url(#pg)" d="M3.83 2.45L8.53 0.70v-54.56L3.83 -52.11z"/><path fill="#5bcd60" d="M0 -54.56L3.83 -52.11L8.53 -53.86L4.70 -56.32z"/></g>
<g transform="translate(394.58,163.38)"><path fill="url(#pg)" d="M0 0L3.83 2.45v-70.40L0 -70.40z"/><path fill="url(#pg)" d="M3.83 2.45L8.53 0.70v-70.40L3.83 -67.95z"/><path fill="#f8b326" d="M0 -70.40L3.83 -67.95L8.53 -69.70L4.70 -72.16z"/></g>
<g transform="translate(388.70,165.58)"><path fill="url(#pg)" d="M0 0L3.83 2.45v-80.08L0 -80.08z"/><path fill="url(#pg)" d="M3.83 2.45L8.53 0.70v-80.08L3.83 -77.63z"/><path fill="#f5e10e" d="M0 -80.08L3.83 -77.63L8.53 -79.38L4.70 -81.84z"/></g>
<g transform="translate(382.83,167.78)"><path fill="url(#pg)" d="M0 0L3.83 2.45v-83.60L0 -83.60z"/><path fill="url(#pg)" d="M3.83 2.45L8.53 0.70v-83.60L3.83 -81.15z"/><path fill="#f7f303" d="M0 -83.60L3.83 -81.15L8.53 -82.90L4.70 -85.36z"/></g>
<g transform="translate(376.95,169.97)"><path fill="url(#pg)" d="M0 0L3.83 2.45v-80.08L0 -80.08z"/><path fill="url(#pg)" d="M3.83 2.45L8.53 0.70v-80.08L3.83 -77.63z"/><path fill="#f5e10e" d="M0 -80.08L3.83 -77.63L8.53 -79.38L4.70 -81.84z"/></g>
<g transform="translate(371.08,172.17)"><path fill="url(#pg)" d="M0 0L3.83 2.45v-70.40L0 -70.40z"/><path fill="url(#pg)" d="M3.83 2.45L8.53 0.70v-70.40L3.83 -67.95z"/><path fill="#f8b326" d="M0 -70.40L3.83 -67.95L8.53 -69.70L4.70 -72.16z"/></g>
<g transform="translate(365.20,174.36)"><path fill="url(#pg)" d="M0 0L3.83 2.45v-63.36L0 -63.36z"/><path fill="url(#pg)" d="M3.83 2.45L8.53 0.70v-63.36L3.83 -60.91z"/><path fill="#c2c219" d="M0 -63.36L3.83 -60.91L8.53 -62.66L4.70 -65.12z"/></g>
<g transform="translate(359.32,176.56)"><path fill="url(#pg)" d="M0 0L3.83 2.45v-70.40L0 -70.40z"/><path fill="url(#pg)" d="M3.83 2.45L8.53 0.70v-70.40L3.83 -67.95z"/><path fill="#f8b326" d="M0 -70.40L3.83 -67.95L8.53 -69.70L4.70 -72.16z"/></g>
<g transform="translate(475.76,137.91)"><path fill="url(#pg)" d="M0 0L3.83 2.45v-71.28L0 -71.28z"/><path fill="url(#pg)" d="M3.83 2.45L8.53 0.70v-71.28L3.83 -68.83z"/><path fill="#fcb526" d="M0 -71.28L3.83 -68.83L8.53 -70.58L4.70 -73.04z"/></g>
<g transform="translate(469.89,140.11)"><path fill="url(#pg)" d="M0 0L3.83 2.45v-64.24L0 -64.24z"/><path fill="url(#pg)" d="M3.83 2.45L8.53 0.70v-64.24L3.83 -61.79z"/><path fill="#cac015" d="M0 -64.24L3.83 -61.79L8.53 -63.54L4.70 -66.00z"/></g>
<g transform="translate(464.01,142.30)"><path fill="url(#pg)" d="M0 0L3.83 2.45v-71.28L0 -71.28z"/><path fill="url(#pg)" d="M3.83 2.45L8.53 0.70v-71.28L3.83 -68.83z"/><path fill="#fcb526" d="M0 -71.28L3.83 -68.83L8.53 -70.58L4.70 -73.04z"/></g>
<g transform="translate(458.13,144.50)"><path fill="url(#pg)" d="M0 0L3.83 2.45v-83.60L0 -83.60z"/><path fill="url(#pg)" d="M3.83 2.45L8.53 0.70v-83.60L3.83 -81.15z"/><path fill="#f7f303" d="M0 -83.60L3.83 -81.15L8.53 -82.90L4.70 -85.36z"/></g>
<g transform="translate(452.26,146.69)"><path fill="url(#pg)" d="M0 0L3.83 2.45v-85.36L0 -85.36z"/><path fill="url(#pg)" d="M3.83 2.45L8.53 0.70v-85.36L3.83 -82.91z"/><path fill="#f9fb00" d="M0 -85.36L3.83 -82.91L8.53 -84.66L4.70 -87.12z"/></g>
<g transform="translate(446.38,148.89)"><path fill="url(#pg)" d="M0 0L3.83 2.45v-83.60L0 -83.60z"/><path fill="url(#pg)" d="M3.83 2.45L8.53 0.70v-83.60L3.83 -81.15z"/><path fill="#f7f303" d="M0 -83.60L3.83 -81.15L8.53 -82.90L4.70 -85.36z"/></g>
<g transform="translate(440.50,151.08)"><path fill="url(#pg)" d="M0 0L3.83 2.45v-72.16L0 -72.16z"/><path fill="url(#pg)" d="M3.83 2.45L8.53 0.70v-72.16L3.83 -69.71z"/><path fill="#feb724" d="M0 -72.16L3.83 -69.71L8.53 -71.46L4.70 -73.92z"/></g>
<g transform="translate(434.63,153.28)"><path fill="url(#pg)" d="M0 0L3.83 2.45v-55.44L0 -55.44z"/><path fill="url(#pg)" d="M3.83 2.45L8.53 0.70v-55.44L3.83 -52.99z"/><path fill="#65cd58" d="M0 -55.44L3.83 -52.99L8.53 -54.74L4.70 -57.20z"/></g>
<g transform="translate(428.75,155.48)"><path fill="url(#pg)" d="M0 0L3.83 2.45v-35.20L0 -35.20z"/><path fill="url(#pg)" d="M3.83 2.45L8.53 0.70v-35.20L3.83 -32.75z"/><path fill="#01a8db" d="M0 -35.20L3.83 -32.75L8.53 -34.50L4.70 -36.96z"/></g>
<g transform="translate(422.88,157.67)"><path fill="url(#pg)" d="M0 0L3.83 2.45v-14.08L0 -14.08z"/><path fill="url(#pg)" d="M3.83 2.45L8.53 0.70v-14.08L3.83 -11.63z"/><path fill="#394ef9" d="M0 -14.08L3.83 -11.63L8.53 -13.38L4.70 -15.84z"/></g>
<g transform="translate(417.00,159.87)"><path fill="url(#pg)" d="M0 0L3.83 2.45v-14.08L0 -14.08z"/><path fill="url(#pg)" d="M3.83 2.45L8.53 0.70v-14.08L3.83 -11.63z"/><path fill="#394ef9" d="M0 -14.08L3.83 -11.63L8.53 -13.38L4.70 -15.84z"/></g>
<g transform="translate(411.12,162.06)"><path fill="url(#pg)" d="M0 0L3.83 2.45v-35.20L0 -35.20z"/><path fill="url(#pg)" d="M3.83 2.45L8.53 0.70v-35.20L3.83 -32.75z"/><path fill="#01a8db" d="M0 -35.20L3.83 -32.75L8.53 -34.50L4.70 -36.96z"/></g>
<g transform="translate(405.25,164.26)"><path fill="url(#pg)" d="M0 0L3.83 2.45v-55.44L0 -55.44z"/><path fill="url(#pg)" d="M3.83 2.45L8.53 0.70v-55.44L3.83 -52.99z"/><path fill="#65cd58" d="M0 -55.44L3.83 -52.99L8.53 -54.74L4.70 -57.20z"/></g>
<g transform="translate(399.37,166.45)"><path fill="url(#pg)" d="M0 0L3.83 2.45v-72.16L0 -72.16z"/><path fill="url(#pg)" d="M3.83 2.45L8.53 0.70v-72.16L3.83 -69.71z"/><path fill="#feb724" d="M0 -72.16L3.83 -69.71L8.53 -71.46L4.70 -73.92z"/></g>
<g transform="translate(393.50,168.65)"><path fill="url(#pg)" d="M0 0L3.83 2.45v-83.60L0 -83.60z"/><path fill="url(#pg)" d="M3.83 2.45L8.53 0.70v-83.60L3.83 -81.15z"/><path fill="#f7f303" d="M0 -83.60L3.83 -81.15L8.53 -82.90L4.70 -85.36z"/></g>
<g transform="translate(387.62,170.84)"><path fill="url(#pg)" d="M0 0L3.83 2.45v-85.36L0 -85.36z"/><path fill="url(#pg)" d="M3.83 2.45L8.53 0.70v-85.36L3.83 -82.91z"/><path fill="#f9fb00" d="M0 -85.36L3.83 -82.91L8.53 -84.66L4.70 -87.12z"/></g>
<g transform="translate(381.74,173.04)"><path fill="url(#pg)" d="M0 0L3.83 2.45v-83.60L0 -83.60z"/><path fill="url(#pg)" d="M3.83 2.45L8.53 0.70v-83.60L3.83 -81.15z"/><path fill="#f7f303" d="M0 -83.60L3.83 -81.15L8.53 -82.90L4.70 -85.36z"/></g>
<g transform="translate(375.87,175.23)"><path fill="url(#pg)" d="M0 0L3.83 2.45v-71.28L0 -71.28z"/><path fill="url(#pg)" d="M3.83 2.45L8.53 0.70v-71.28L3.83 -68.83z"/><path fill="#fcb526" d="M0 -71.28L3.83 -68.83L8.53 -70.58L4.70 -73.04z"/></g>
<g transform="translate(369.99,177.43)"><path fill="url(#pg)" d="M0 0L3.83 2.45v-64.24L0 -64.24z"/><path fill="url(#pg)" d="M3.83 2.45L8.53 0.70v-64.24L3.83 -61.79z"/><path fill="#cac015" d="M0 -64.24L3.83 -61.79L8.53 -63.54L4.70 -66.00z"/></g>
<g transform="translate(364.11,179.62)"><path fill="url(#pg)" d="M0 0L3.83 2.45v-71.28L0 -71.28z"/><path fill="url(#pg)" d="M3.83 2.45L8.53 0.70v-71.28L3.83 -68.83z"/><path fill="#fcb526" d="M0 -71.28L3.83 -68.83L8.53 -70.58L4.70 -73.04z"/></g>
<g transform="translate(480.55,140.98)"><path fill="url(#pg)" d="M0 0L3.83 2.45v-71.28L0 -71.28z"/><path fill="url(#pg)" d="M3.83 2.45L8.53 0.70v-71.28L3.83 -68.83z"/><path fill="#fcb526" d="M0 -71.28L3.83 -68.83L8.53 -70.58L4.70 -73.04z"/></g>
<g transform="translate(474.68,143.18)"><path fill="url(#pg)" d="M0 0L3.83 2.45v-64.24L0 -64.24z"/><path fill="url(#pg)" d="M3.83 2.45L8.53 0.70v-64.24L3.83 -61.79z"/><path fill="#cac015" d="M0 -64.24L3.83 -61.79L8.53 -63.54L4.70 -66.00z"/></g>
<g transform="translate(468.80,145.37)"><path fill="url(#pg)" d="M0 0L3.83 2.45v-71.28L0 -71.28z"/><path fill="url(#pg)" d="M3.83 2.45L8.53 0.70v-71.28L3.83 -68.83z"/><path fill="#fcb526" d="M0 -71.28L3.83 -68.83L8.53 -70.58L4.70 -73.04z"/></g>
<g transform="translate(462.92,147.57)"><path fill="url(#pg)" d="M0 0L3.83 2.45v-83.60L0 -83.60z"/><path fill="url(#pg)" d="M3.83 2.45L8.53 0.70v-83.60L3.83 -81.15z"/><path fill="#f7f303" d="M0 -83.60L3.83 -81.15L8.53 -82.90L4.70 -85.36z"/></g>
<g transform="translate(457.05,149.76)"><path fill="url(#pg)" d="M0 0L3.83 2.45v-85.36L0 -85.36z"/><path fill="url(#pg)" d="M3.83 2.45L8.53 0.70v-85.36L3.83 -82.91z"/><path fill="#f9fb00" d="M0 -85.36L3.83 -82.91L8.53 -84.66L4.70 -87.12z"/></g>
<g transform="translate(451.17,151.96)"><path fill="url(#pg)" d="M0 0L3.83 2.45v-83.60L0 -83.60z"/><path fill="url(#pg)" d="M3.83 2.45L8.53 0.70v-83.60L3.83 -81.15z"/><path fill="#f7f303" d="M0 -83.60L3.83 -81.15L8.53 -82.90L4.70 -85.36z"/></g>
<g transform="translate(445.30,154.15)"><path fill="url(#pg)" d="M0 0L3.83 2.45v-72.16L0 -72.16z"/><path fill="url(#pg)" d="M3.83 2.45L8.53 0.70v-72.16L3.83 -69.71z"/><path fill="#feb724" d="M0 -72.16L3.83 -69.71L8.53 -71.46L4.70 -73.92z"/></g>
<g transform="translate(439.42,156.35)"><path fill="url(#pg)" d="M0 0L3.83 2.45v-55.44L0 -55.44z"/><path fill="url(#pg)" d="M3.83 2.45L8.53 0.70v-55.44L3.83 -52.99z"/><path fill="#65cd58" d="M0 -55.44L3.83 -52.99L8.53 -54.74L4.70 -57.20z"/></g>
<g transform="translate(433.54,158.54)"><path fill="url(#pg)" d="M0 0L3.83 2.45v-35.20L0 -35.20z"/><path fill="url(#pg)" d="M3.83 2.45L8.53 0.70v-35.20L3.83 -32.75z"/><path fill="#01a8db" d="M0 -35.20L3.83 -32.75L8.53 -34.50L4.70 -36.96z"/></g>
<g transform="translate(427.67,160.74)"><path fill="url(#pg)" d="M0 0L3.83 2.45v-14.08L0 -14.08z"/><path fill="url(#pg)" d="M3.83 2.45L8.53 0.70v-14.08L3.83 -11.63z"/><path fill="#394ef9" d="M0 -14.08L3.83 -11.63L8.53 -13.38L4.70 -15.84z"/></g>
<g transform="translate(421.79,162.93)"><path fill="url(#pg)" d="M0 0L3.83 2.45v-14.08L0 -14.08z"/><path fill="url(#pg)" d="M3.83 2.45L8.53 0.70v-14.08L3.83 -11.63z"/><path fill="#394ef9" d="M0 -14.08L3.83 -11.63L8.53 -13.38L4.70 -15.84z"/></g>
<g transform="translate(415.91,165.13)"><path fill="url(#pg)" d="M0 0L3.83 2.45v-35.20L0 -35.20z"/><path fill="url(#pg)" d="M3.83 2.45L8.53 0.70v-35.20L3.83 -32.75z"/><path fill="#01a8db" d="M0 -35.20L3.83 -32.75L8.53 -34.50L4.70 -36.96z"/></g>
<g transform="translate(410.04,167.32)"><path fill="url(#pg)" d="M0 0L3.83 2.45v-55.44L0 -55.44z"/><path fill="url(#pg)" d="M3.83 2.45L8.53 0.70v-55.44L3.83 -52.99z"/><path fill="#65cd58" d="M0 -55.44L3.83 -52.99L8.53 -54.74L4.70 -57.20z"/></g>
<g transform="translate(404.16,169.52)"><path fill="url(#pg)" d="M0 0L3.83 2.45v-72.16L0 -72.16z"/><path fill="url(#pg)" d="M3.83 2.45L8.53 0.70v-72.16L3.83 -69.71z"/><path fill="#feb724" d="M0 -72.16L3.83 -69.71L8.53 -71.46L4.70 -73.92z"/></g>
<g transform="translate(398.29,171.71)"><path fill="url(#pg)" d="M0 0L3.83 2.45v-83.60L0 -83.60z"/><path fill="url(#pg)" d="M3.83 2.45L8.53 0.70v-83.60L3.83 -81.15z"/><path fill="#f7f303" d="M0 -83.60L3.83 -81.15L8.53 -82.90L4.70 -85.36z"/></g>
<g transform="translate(392.41,173.91)"><path fill="url(#pg)" d="M0 0L3.83 2.45v-85.36L0 -85.36z"/><path fill="url(#pg)" d="M3.83 2.45L8.53 0.70v-85.36L3.83 -82.91z"/><path fill="#f9fb00" d="M0 -85.36L3.83 -82.91L8.53 -84.66L4.70 -87.12z"/></g>
<g transform="translate(386.53,176.10)"><path fill="url(#pg)" d="M0 0L3.83 2.45v-83.60L0 -83.60z"/><path fill="url(#pg)" d="M3.83 2.45L8.53 0.70v-83.60L3.83 -81.15z"/><path fill="#f7f303" d="M0 -83.60L3.83 -81.15L8.53 -82.90L4.70 -85.36z"/></g>
<g transform="translate(380.66,178.30)"><path fill="url(#pg)" d="M0 0L3.83 2.45v-71.28L0 -71.28z"/><path fill="url(#pg)" d="M3.83 2.45L8.53 0.70v-71.28L3.83 -68.83z"/><path fill="#fcb526" d="M0 -71.28L3.83 -68.83L8.53 -70.58L4.70 -73.04z"/></g>
<g transform="translate(374.78,180.49)"><path fill="url(#pg)" d="M0 0L3.83 2.45v-64.24L0 -64.24z"/><path fill="url(#pg)" d="M3.83 2.45L8.53 0.70v-64.24L3.83 -61.79z"/><path fill="#cac015" d="M0 -64.24L3.83 -61.79L8.53 -63.54L4.70 -66.00z"/></g>
<g transform="translate(368.90,182.69)"><path fill="url(#pg)" d="M0 0L3.83 2.45v-71.28L0 -71.28z"/><path fill="url(#pg)" d="M3.83 2.45L8.53 0.70v-71.28L3.83 -68.83z"/><path fill="#fcb526" d="M0 -71.28L3.83 -68.83L8.53 -70.58L4.70 -73.04z"/></g>
<g transform="translate(485.34,144.05)"><path fill="url(#pg)" d="M0 0L3.83 2.45v-70.40L0 -70.40z"/><path fill="url(#pg)" d="M3.83 2.45L8.53 0.70v-70.40L3.83 -67.95z"/><path fill="#f8b326" d="M0 -70.40L3.83 -67.95L8.53 -69.70L4.70 -72.16z"/></g>
<g transform="translate(479.47,146.24)"><path fill="url(#pg)" d="M0 0L3.83 2.45v-63.36L0 -63.36z"/><path fill="url(#pg)" d="M3.83 2.45L8.53 0.70v-63.36L3.83 -60.91z"/><path fill="#c2c219" d="M0 -63.36L3.83 -60.91L8.53 -62.66L4.70 -65.12z"/></g>
<g transform="translate(473.59,148.44)"><path fill="url(#pg)" d="M0 0L3.83 2.45v-70.40L0 -70.40z"/><path fill="url(#pg)" d="M3.83 2.45L8.53 0.70v-70.40L3.83 -67.95z"/><path fill="#f8b326" d="M0 -70.40L3.83 -67.95L8.53 -69.70L4.70 -72.16z"/></g>
<g transform="translate(467.71,150.63)"><path fill="url(#pg)" d="M0 0L3.83 2.45v-80.08L0 -80.08z"/><path fill="url(#pg)" d="M3.83 2.45L8.53 0.70v-80.08L3.83 -77.63z"/><path fill="#f5e10e" d="M0 -80.08L3.83 -77.63L8.53 -79.38L4.70 -81.84z"/></g>
<g transform="translate(461.84,152.83)"><path fill="url(#pg)" d="M0 0L3.83 2.45v-83.60L0 -83.60z"/><path fill="url(#pg)" d="M3.83 2.45L8.53 0.70v-83.60L3.83 -81.15z"/><path fill="#f7f303" d="M0 -83.60L3.83 -81.15L8.53 -82.90L4.70 -85.36z"/></g>
<g transform="translate(455.96,155.02)"><path fill="url(#pg)" d="M0 0L3.83 2.45v-80.08L0 -80.08z"/><path fill="url(#pg)" d="M3.83 2.45L8.53 0.70v-80.08L3.83 -77.63z"/><path fill="#f5e10e" d="M0 -80.08L3.83 -77.63L8.53 -79.38L4.70 -81.84z"/></g>
<g transform="translate(450.09,157.22)"><path fill="url(#pg)" d="M0 0L3.83 2.45v-70.40L0 -70.40z"/><path fill="url(#pg)" d="M3.83 2.45L8.53 0.70v-70.40L3.83 -67.95z"/><path fill="#f8b326" d="M0 -70.40L3.83 -67.95L8.53 -69.70L4.70 -72.16z"/></g>
<g transform="translate(444.21,159.41)"><path fill="url(#pg)" d="M0 0L3.83 2.45v-54.56L0 -54.56z"/><path fill="url(#pg)" d="M3.83 2.45L8.53 0.70v-54.56L3.83 -52.11z"/><path fill="#5bcd60" d="M0 -54.56L3.83 -52.11L8.53 -53.86L4.70 -56.32z"/></g>
<g transform="translate(438.33,161.61)"><path fill="url(#pg)" d="M0 0L3.83 2.45v-35.20L0 -35.20z"/><path fill="url(#pg)" d="M3.83 2.45L8.53 0.70v-35.20L3.83 -32.75z"/><path fill="#01a8db" d="M0 -35.20L3.83 -32.75L8.53 -34.50L4.70 -36.96z"/></g>
<g transform="translate(432.46,163.80)"><path fill="url(#pg)" d="M0 0L3.83 2.45v-14.08L0 -14.08z"/><path fill="url(#pg)" d="M3.83 2.45L8.53 0.70v-14.08L3.83 -11.63z"/><path fill="#394ef9" d="M0 -14.08L3.83 -11.63L8.53 -13.38L4.70 -15.84z"/></g>
<g transform="translate(426.58,166.00)"><path fill="url(#pg)" d="M0 0L3.83 2.45v-14.08L0 -14.08z"/><path fill="url(#pg)" d="M3.83 2.45L8.53 0.70v-14.08L3.83 -11.63z"/><path fill="#394ef9" d="M0 -14.08L3.83 -11.63L8.53 -13.38L4.70 -15.84z"/></g>
<g transform="translate(420.70,168.19)"><path fill="url(#pg)" d="M0 0L3.83 2.45v-35.20L0 -35.20z"/><path fill="url(#pg)" d="M3.83 2.45L8.53 0.70v-35.20L3.83 -32.75z"/><path fill="#01a8db" d="M0 -35.20L3.83 -32.75L8.53 -34.50L4.70 -36.96z"/></g>
<g transform="translate(414.83,170.39)"><path fill="url(#pg)" d="M0 0L3.83 2.45v-54.56L0 -54.56z"/><path fill="url(#pg)" d="M3.83 2.45L8.53 0.70v-54.56L3.83 -52.11z"/><path fill="#5bcd60" d="M0 -54.56L3.83 -52.11L8.53 -53.86L4.70 -56.32z"/></g>
<g transform="translate(408.95,172.58)"><path fill="url(#pg)" d="M0 0L3.83 2.45v-70.40L0 -70.40z"/><path fill="url(#pg)" d="M3.83 2.45L8.53 0.70v-70.40L3.83 -67.95z"/><path fill="#f8b326" d="M0 -70.40L3.83 -67.95L8.53 -69.70L4.70 -72.16z"/></g>
<g transform="translate(403.08,174.78)"><path fill="url(#pg)" d="M0 0L3.83 2.45v-80.08L0 -80.08z"/><path fill="url(#pg)" d="M3.83 2.45L8.53 0.70v-80.08L3.83 -77.63z"/><path fill="#f5e10e" d="M0 -80.08L3.83 -77.63L8.53 -79.38L4.70 -81.84z"/></g>
<g transform="translate(397.20,176.98)"><path fill="url(#pg)" d="M0 0L3.83 2.45v-83.60L0 -83.60z"/><path fill="url(#pg)" d="M3.83 2.45L8.53 0.70v-83.60L3.83 -81.15z"/><path fill="#f7f303" d="M0 -83.60L3.83 -81.15L8.53 -82.90L4.70 -85.36z"/></g>
<g transform="translate(391.32,179.17)"><path fill="url(#pg)" d="M0 0L3.83 2.45v-80.08L0 -80.08z"/><path fill="url(#pg)" d="M3.83 2.45L8.53 0.70v-80.08L3.83 -77.63z"/><path fill="#f5e10e" d="M0 -80.08L3.83 -77.63L8.53 -79.38L4.70 -81.84z"/></g>
<g transform="translate(385.45,181.37)"><path fill="url(#pg)" d="M0 0L3.83 2.45v-70.40L0 -70.40z"/><path fill="url(#pg)" d="M3.83 2.45L8.53 0.70v-70.40L3.83 -67.95z"/><path fill="#f8b326" d="M0 -70.40L3.83 -67.95L8.53 -69.70L4.70 -72.16z"/></g>
<g transform="translate(379.57,183.56)"><path fill="url(#pg)" d="M0 0L3.83 2.45v-63.36L0 -63.36z"/><path fill="url(#pg)" d="M3.83 2.45L8.53 0.70v-63.36L3.83 -60.91z"/><path fill="#c2c219" d="M0 -63.36L3.83 -60.91L8.53 -62.66L4.70 -65.12z"/></g>
<g transform="translate(373.70,185.76)"><path fill="url(#pg)" d="M0 0L3.83 2.45v-70.40L0 -70.40z"/><path fill="url(#pg)" d="M3.83 2.45L8.53 0.70v-70.40L3.83 -67.95z"/><path fill="#f8b326" d="M0 -70.40L3.83 -67.95L8.53 -69.70L4.70 -72.16z"/></g>
<g transform="translate(490.13,147.11)"><path fill="url(#pg)" d="M0 0L3.83 2.45v-65.12L0 -65.12z"/><path fill="url(#pg)" d="M3.83 2.45L8.53 0.70v-65.12L3.83 -62.67z"/><path fill="#d2bd13" d="M0 -65.12L3.83 -62.67L8.53 -64.42L4.70 -66.88z"/></g>
<g transform="translate(484.26,149.31)"><path fill="url(#pg)" d="M0 0L3.83 2.45v-57.20L0 -57.20z"/><path fill="url(#pg)" d="M3.83 2.45L8.53 0.70v-57.20L3.83 -54.75z"/><path fill="#7bcc48" d="M0 -57.20L3.83 -54.75L8.53 -56.50L4.70 -58.96z"/></g>
<g transform="translate(478.38,151.50)"><path fill="url(#pg)" d="M0 0L3.83 2.45v-66.88L0 -66.88z"/><path fill="url(#pg)" d="M3.83 2.45L8.53 0.70v-66.88L3.83 -64.43z"/><path fill="#e0b815" d="M0 -66.88L3.83 -64.43L8.53 -66.18L4.70 -68.64z"/></g>
<g transform="translate(472.50,153.70)"><path fill="url(#pg)" d="M0 0L3.83 2.45v-74.80L0 -74.80z"/><path fill="url(#pg)" d="M3.83 2.45L8.53 0.70v-74.80L3.83 -72.35z"/><path fill="#fdc41b" d="M0 -74.80L3.83 -72.35L8.53 -74.10L4.70 -76.56z"/></g>
<g transform="translate(466.63,155.89)"><path fill="url(#pg)" d="M0 0L3.83 2.45v-77.44L0 -77.44z"/><path fill="url(#pg)" d="M3.83 2.45L8.53 0.70v-77.44L3.83 -74.99z"/><path fill="#f9d314" d="M0 -77.44L3.83 -74.99L8.53 -76.74L4.70 -79.20z"/></g>
<g transform="translate(460.75,158.09)"><path fill="url(#pg)" d="M0 0L3.83 2.45v-74.80L0 -74.80z"/><path fill="url(#pg)" d="M3.83 2.45L8.53 0.70v-74.80L3.83 -72.35z"/><path fill="#fdc41b" d="M0 -74.80L3.83 -72.35L8.53 -74.10L4.70 -76.56z"/></g>
<g transform="translate(454.88,160.28)"><path fill="url(#pg)" d="M0 0L3.83 2.45v-67.76L0 -67.76z"/><path fill="url(#pg)" d="M3.83 2.45L8.53 0.70v-67.76L3.83 -65.31z"/><path fill="#e6b617" d="M0 -67.76L3.83 -65.31L8.53 -67.06L4.70 -69.52z"/></g>
<g transform="translate(449.00,162.48)"><path fill="url(#pg)" d="M0 0L3.83 2.45v-53.68L0 -53.68z"/><path fill="url(#pg)" d="M3.83 2.45L8.53 0.70v-53.68L3.83 -51.23z"/><path fill="#52cd69" d="M0 -53.68L3.83 -51.23L8.53 -52.98L4.70 -55.44z"/></g>
<g transform="translate(443.12,164.68)"><path fill="url(#pg)" d="M0 0L3.83 2.45v-34.32L0 -34.32z"/><path fill="url(#pg)" d="M3.83 2.45L8.53 0.70v-34.32L3.83 -31.87z"/><path fill="#04a4de" d="M0 -34.32L3.83 -31.87L8.53 -33.62L4.70 -36.08z"/></g>
<g transform="translate(437.25,166.87)"><path fill="url(#pg)" d="M0 0L3.83 2.45v-12.32L0 -12.32z"/><path fill="url(#pg)" d="M3.83 2.45L8.53 0.70v-12.32L3.83 -9.87z"/><path fill="#3c48f5" d="M0 -12.32L3.83 -9.87L8.53 -11.62L4.70 -14.08z"/></g>
<g transform="translate(431.37,169.07)"><path fill="url(#pg)" d="M0 0L3.83 2.45v-12.32L0 -12.32z"/><path fill="url(#pg)" d="M3.83 2.45L8.53 0.70v-12.32L3.83 -9.87z"/><path fill="#3c48f5" d="M0 -12.32L3.83 -9.87L8.53 -11.62L4.70 -14.08z"/></g>
<g transform="translate(425.50,171.26)"><path fill="url(#pg)" d="M0 0L3.83 2.45v-34.32L0 -34.32z"/><path fill="url(#pg)" d="M3.83 2.45L8.53 0.70v-34.32L3.83 -31.87z"/><path fill="#04a4de" d="M0 -34.32L3.83 -31.87L8.53 -33.62L4.70 -36.08z"/></g>
<g transform="translate(419.62,173.46)"><path fill="url(#pg)" d="M0 0L3.83 2.45v-53.68L0 -53.68z"/><path fill="url(#pg)" d="M3.83 2.45L8.53 0.70v-53.68L3.83 -51.23z"/><path fill="#52cd69" d="M0 -53.68L3.83 -51.23L8.53 -52.98L4.70 -55.44z"/></g>
<g transform="translate(413.74,175.65)"><path fill="url(#pg)" d="M0 0L3.83 2.45v-67.76L0 -67.76z"/><path fill="url(#pg)" d="M3.83 2.45L8.53 0.70v-67.76L3.83 -65.31z"/><path fill="#e6b617" d="M0 -67.76L3.83 -65.31L8.53 -67.06L4.70 -69.52z"/></g>
<g transform="translate(407.87,177.85)"><path fill="url(#pg)" d="M0 0L3.83 2.45v-74.80L0 -74.80z"/><path fill="url(#pg)" d="M3.83 2.45L8.53 0.70v-74.80L3.83 -72.35z"/><path fill="#fdc41b" d="M0 -74.80L3.83 -72.35L8.53 -74.10L4.70 -76.56z"/></g>
<g transform="translate(401.99,180.04)"><path fill="url(#pg)" d="M0 0L3.83 2.45v-77.44L0 -77.44z"/><path fill="url(#pg)" d="M3.83 2.45L8.53 0.70v-77.44L3.83 -74.99z"/><path fill="#f9d314" d="M0 -77.44L3.83 -74.99L8.53 -76.74L4.70 -79.20z"/></g>
<g transform="translate(396.11,182.24)"><path fill="url(#pg)" d="M0 0L3.83 2.45v-74.80L0 -74.80z"/><path fill="url(#pg)" d="M3.83 2.45L8.53 0.70v-74.80L3.83 -72.35z"/><path fill="#fdc41b" d="M0 -74.80L3.83 -72.35L8.53 -74.10L4.70 -76.56z"/></g>
<g transform="translate(390.24,184.43)"><path fill="url(#pg)" d="M0 0L3.83 2.45v-66.88L0 -66.88z"/><path fill="url(#pg)" d="M3.83 2.45L8.53 0.70v-66.88L3.83 -64.43z"/><path fill="#e0b815" d="M0 -66.88L3.83 -64.43L8.53 -66.18L4.70 -68.64z"/></g>
<g transform="translate(384.36,186.63)"><path fill="url(#pg)" d="M0 0L3.83 2.45v-57.20L0 -57.20z"/><path fill="url(#pg)" d="M3.83 2.45L8.53 0.70v-57.20L3.83 -54.75z"/><path fill="#7bcc48" d="M0 -57.20L3.83 -54.75L8.53 -56.50L4.70 -58.96z"/></g>
<g transform="translate(378.49,188.82)"><path fill="url(#pg)" d="M0 0L3.83 2.45v-65.12L0 -65.12z"/><path fill="url(#pg)" d="M3.83 2.45L8.53 0.70v-65.12L3.83 -62.67z"/><path fill="#d2bd13" d="M0 -65.12L3.83 -62.67L8.53 -64.42L4.70 -66.88z"/></g>
<g transform="translate(494.92,150.18)"><path fill="url(#pg)" d="M0 0L3.83 2.45v-58.96L0 -58.96z"/><path fill="url(#pg)" d="M3.83 2.45L8.53 0.70v-58.96L3.83 -56.51z"/><path fill="#90ca38" d="M0 -58.96L3.83 -56.51L8.53 -58.26L4.70 -60.72z"/></g>
<g transform="translate(489.05,152.38)"><path fill="url(#pg)" d="M0 0L3.83 2.45v-52.80L0 -52.80z"/><path fill="url(#pg)" d="M3.83 2.45L8.53 0.70v-52.80L3.83 -50.35z"/><path fill="#48cc71" d="M0 -52.80L3.83 -50.35L8.53 -52.10L4.70 -54.56z"/></g>
<g transform="translate(483.17,154.57)"><path fill="url(#pg)" d="M0 0L3.83 2.45v-58.96L0 -58.96z"/><path fill="url(#pg)" d="M3.83 2.45L8.53 0.70v-58.96L3.83 -56.51z"/><path fill="#90ca38" d="M0 -58.96L3.83 -56.51L8.53 -58.26L4.70 -60.72z"/></g>
<g transform="translate(477.30,156.77)"><path fill="url(#pg)" d="M0 0L3.83 2.45v-70.40L0 -70.40z"/><path fill="url(#pg)" d="M3.83 2.45L8.53 0.70v-70.40L3.83 -67.95z"/><path fill="#f8b326" d="M0 -70.40L3.83 -67.95L8.53 -69.70L4.70 -72.16z"/></g>
<g transform="translate(471.42,158.96)"><path fill="url(#pg)" d="M0 0L3.83 2.45v-71.28L0 -71.28z"/><path fill="url(#pg)" d="M3.83 2.45L8.53 0.70v-71.28L3.83 -68.83z"/><path fill="#fcb526" d="M0 -71.28L3.83 -68.83L8.53 -70.58L4.70 -73.04z"/></g>
<g transform="translate(465.54,161.16)"><path fill="url(#pg)" d="M0 0L3.83 2.45v-70.40L0 -70.40z"/><path fill="url(#pg)" d="M3.83 2.45L8.53 0.70v-70.40L3.83 -67.95z"/><path fill="#f8b326" d="M0 -70.40L3.83 -67.95L8.53 -69.70L4.70 -72.16z"/></g>
<g transform="translate(459.67,163.35)"><path fill="url(#pg)" d="M0 0L3.83 2.45v-59.84L0 -59.84z"/><path fill="url(#pg)" d="M3.83 2.45L8.53 0.70v-59.84L3.83 -57.39z"/><path fill="#9bc831" d="M0 -59.84L3.83 -57.39L8.53 -59.14L4.70 -61.60z"/></g>
<g transform="translate(453.79,165.55)"><path fill="url(#pg)" d="M0 0L3.83 2.45v-50.16L0 -50.16z"/><path fill="url(#pg)" d="M3.83 2.45L8.53 0.70v-50.16L3.83 -47.71z"/><path fill="#2fca87" d="M0 -50.16L3.83 -47.71L8.53 -49.46L4.70 -51.92z"/></g>
<g transform="translate(447.91,167.74)"><path fill="url(#pg)" d="M0 0L3.83 2.45v-32.56L0 -32.56z"/><path fill="url(#pg)" d="M3.83 2.45L8.53 0.70v-32.56L3.83 -30.11z"/><path fill="#089de2" d="M0 -32.56L3.83 -30.11L8.53 -31.86L4.70 -34.32z"/></g>
<g transform="translate(442.04,169.94)"><path fill="url(#pg)" d="M0 0L3.83 2.45v-10.56L0 -10.56z"/><path fill="url(#pg)" d="M3.83 2.45L8.53 0.70v-10.56L3.83 -8.11z"/><path fill="#3e42ef" d="M0 -10.56L3.83 -8.11L8.53 -9.86L4.70 -12.32z"/></g>
<g transform="translate(436.16,172.13)"><path fill="url(#pg)" d="M0 0L3.83 2.45v-10.56L0 -10.56z"/><path fill="url(#pg)" d="M3.83 2.45L8.53 0.70v-10.56L3.83 -8.11z"/><path fill="#3e42ef" d="M0 -10.56L3.83 -8.11L8.53 -9.86L4.70 -12.32z"/></g>
<g transform="translate(430.29,174.33)"><path fill="url(#pg)" d="M0 0L3.83 2.45v-32.56L0 -32.56z"/><path fill="url(#pg)" d="M3.83 2.45L8.53 0.70v-32.56L3.83 -30.11z"/><path fill="#089de2" d="M0 -32.56L3.83 -30.11L8.53 -31.86L4.70 -34.32z"/></g>
<g transform="translate(424.41,176.52)"><path fill="url(#pg)" d="M0 0L3.83 2.45v-50.16L0 -50.16z"/><path fill="url(#pg)" d="M3.83 2.45L8.53 0.70v-50.16L3.83 -47.71z"/><path fill="#2fca87" d="M0 -50.16L3.83 -47.71L8.53 -49.46L4.70 -51.92z"/></g>
<g transform="translate(418.53,178.72)"><path fill="url(#pg)" d="M0 0L3.83 2.45v-59.84L0 -59.84z"/><path fill="url(#pg)" d="M3.83 2.45L8.53 0.70v-59.84L3.83 -57.39z"/><path fill="#9bc831" d="M0 -59.84L3.83 -57.39L8.53 -59.14L4.70 -61.60z"/></g>
<g transform="translate(412.66,180.91)"><path fill="url(#pg)" d="M0 0L3.83 2.45v-70.40L0 -70.40z"/><path fill="url(#pg)" d="M3.83 2.45L8.53 0.70v-70.40L3.83 -67.95z"/><path fill="#f8b326" d="M0 -70.40L3.83 -67.95L8.53 -69.70L4.70 -72.16z"/></g>
<g transform="translate(406.78,183.11)"><path fill="url(#pg)" d="M0 0L3.83 2.45v-71.28L0 -71.28z"/><path fill="url(#pg)" d="M3.83 2.45L8.53 0.70v-71.28L3.83 -68.83z"/><path fill="#fcb526" d="M0 -71.28L3.83 -68.83L8.53 -70.58L4.70 -73.04z"/></g>
<g transform="translate(400.90,185.30)"><path fill="url(#pg)" d="M0 0L3.83 2.45v-70.40L0 -70.40z"/><path fill="url(#pg)" d="M3.83 2.45L8.53 0.70v-70.40L3.83 -67.95z"/><path fill="#f8b326" d="M0 -70.40L3.83 -67.95L8.53 -69.70L4.70 -72.16z"/></g>
<g transform="translate(395.03,187.50)"><path fill="url(#pg)" d="M0 0L3.83 2.45v-58.96L0 -58.96z"/><path fill="url(#pg)" d="M3.83 2.45L8.53 0.70v-58.96L3.83 -56.51z"/><path fill="#90ca38" d="M0 -58.96L3.83 -56.51L8.53 -58.26L4.70 -60.72z"/></g>
<g transform="translate(389.15,189.69)"><path fill="url(#pg)" d="M0 0L3.83 2.45v-52.80L0 -52.80z"/><path fill="url(#pg)" d="M3.83 2.45L8.53 0.70v-52.80L3.83 -50.35z"/><path fill="#48cc71" d="M0 -52.80L3.83 -50.35L8.53 -52.10L4.70 -54.56z"/></g>
<g transform="translate(383.28,191.89)"><path fill="url(#pg)" d="M0 0L3.83 2.45v-58.96L0 -58.96z"/><path fill="url(#pg)" d="M3.83 2.45L8.53 0.70v-58.96L3.83 -56.51z"/><path fill="#90ca38" d="M0 -58.96L3.83 -56.51L8.53 -58.26L4.70 -60.72z"/></g>
<g transform="translate(499.71,153.25)"><path fill="url(#pg)" d="M0 0L3.83 2.45v-52.80L0 -52.80z"/><path fill="url(#pg)" d="M3.83 2.45L8.53 0.70v-52.80L3.83 -50.35z"/><path fill="#48cc71" d="M0 -52.80L3.83 -50.35L8.53 -52.10L4.70 -54.56z"/></g>
<g transform="translate(493.84,155.44)"><path fill="url(#pg)" d="M0 0L3.83 2.45v-46.64L0 -46.64z"/><path fill="url(#pg)" d="M3.83 2.45L8.53 0.70v-46.64L3.83 -44.19z"/><path fill="#1cc5a0" d="M0 -46.64L3.83 -44.19L8.53 -45.94L4.70 -48.40z"/></g>
<g transform="translate(487.96,157.64)"><path fill="url(#pg)" d="M0 0L3.83 2.45v-52.80L0 -52.80z"/><path fill="url(#pg)" d="M3.83 2.45L8.53 0.70v-52.80L3.83 -50.35z"/><path fill="#48cc71" d="M0 -52.80L3.83 -50.35L8.53 -52.10L4.70 -54.56z"/></g>
<g transform="translate(482.09,159.83)"><path fill="url(#pg)" d="M0 0L3.83 2.45v-58.96L0 -58.96z"/><path fill="url(#pg)" d="M3.83 2.45L8.53 0.70v-58.96L3.83 -56.51z"/><path fill="#90ca38" d="M0 -58.96L3.83 -56.51L8.53 -58.26L4.70 -60.72z"/></g>
<g transform="translate(476.21,162.03)"><path fill="url(#pg)" d="M0 0L3.83 2.45v-62.48L0 -62.48z"/><path fill="url(#pg)" d="M3.83 2.45L8.53 0.70v-62.48L3.83 -60.03z"/><path fill="#b9c41e" d="M0 -62.48L3.83 -60.03L8.53 -61.78L4.70 -64.24z"/></g>
<g transform="translate(470.33,164.22)"><path fill="url(#pg)" d="M0 0L3.83 2.45v-58.96L0 -58.96z"/><path fill="url(#pg)" d="M3.83 2.45L8.53 0.70v-58.96L3.83 -56.51z"/><path fill="#90ca38" d="M0 -58.96L3.83 -56.51L8.53 -58.26L4.70 -60.72z"/></g>
<g transform="translate(464.46,166.42)"><path fill="url(#pg)" d="M0 0L3.83 2.45v-52.80L0 -52.80z"/><path fill="url(#pg)" d="M3.83 2.45L8.53 0.70v-52.80L3.83 -50.35z"/><path fill="#48cc71" d="M0 -52.80L3.83 -50.35L8.53 -52.10L4.70 -54.56z"/></g>
<g transform="translate(458.58,168.61)"><path fill="url(#pg)" d="M0 0L3.83 2.45v-43.12L0 -43.12z"/><path fill="url(#pg)" d="M3.83 2.45L8.53 0.70v-43.12L3.83 -40.67z"/><path fill="#02bfb6" d="M0 -43.12L3.83 -40.67L8.53 -42.42L4.70 -44.88z"/></g>
<g transform="translate(452.70,170.81)"><path fill="url(#pg)" d="M0 0L3.83 2.45v-29.04L0 -29.04z"/><path fill="url(#pg)" d="M3.83 2.45L8.53 0.70v-29.04L3.83 -26.59z"/><path fill="#0f8fea" d="M0 -29.04L3.83 -26.59L8.53 -28.34L4.70 -30.80z"/></g>
<g transform="translate(446.83,173.00)"><path fill="url(#pg)" d="M0 0L3.83 2.45v-8.80L0 -8.80z"/><path fill="url(#pg)" d="M3.83 2.45L8.53 0.70v-8.80L3.83 -6.35z"/><path fill="#3f3ce8" d="M0 -8.80L3.83 -6.35L8.53 -8.10L4.70 -10.56z"/></g>
<g transform="translate(440.95,175.20)"><path fill="url(#pg)" d="M0 0L3.83 2.45v-8.80L0 -8.80z"/><path fill="url(#pg)" d="M3.83 2.45L8.53 0.70v-8.80L3.83 -6.35z"/><path fill="#3f3ce8" d="M0 -8.80L3.83 -6.35L8.53 -8.10L4.70 -10.56z"/></g>
<g transform="translate(435.08,177.39)"><path fill="url(#pg)" d="M0 0L3.83 2.45v-29.04L0 -29.04z"/><path fill="url(#pg)" d="M3.83 2.45L8.53 0.70v-29.04L3.83 -26.59z"/><path fill="#0f8fea" d="M0 -29.04L3.83 -26.59L8.53 -28.34L4.70 -30.80z"/></g>
<g transform="translate(429.20,179.59)"><path fill="url(#pg)" d="M0 0L3.83 2.45v-43.12L0 -43.12z"/><path fill="url(#pg)" d="M3.83 2.45L8.53 0.70v-43.12L3.83 -40.67z"/><path fill="#02bfb6" d="M0 -43.12L3.83 -40.67L8.53 -42.42L4.70 -44.88z"/></g>
<g transform="translate(423.32,181.78)"><path fill="url(#pg)" d="M0 0L3.83 2.45v-52.80L0 -52.80z"/><path fill="url(#pg)" d="M3.83 2.45L8.53 0.70v-52.80L3.83 -50.35z"/><path fill="#48cc71" d="M0 -52.80L3.83 -50.35L8.53 -52.10L4.70 -54.56z"/></g>
<g transform="translate(417.45,183.98)"><path fill="url(#pg)" d="M0 0L3.83 2.45v-58.96L0 -58.96z"/><path fill="url(#pg)" d="M3.83 2.45L8.53 0.70v-58.96L3.83 -56.51z"/><path fill="#90ca38" d="M0 -58.96L3.83 -56.51L8.53 -58.26L4.70 -60.72z"/></g>
<g transform="translate(411.57,186.18)"><path fill="url(#pg)" d="M0 0L3.83 2.45v-62.48L0 -62.48z"/><path fill="url(#pg)" d="M3.83 2.45L8.53 0.70v-62.48L3.83 -60.03z"/><path fill="#b9c41e" d="M0 -62.48L3.83 -60.03L8.53 -61.78L4.70 -64.24z"/></g>
<g transform="translate(405.70,188.37)"><path fill="url(#pg)" d="M0 0L3.83 2.45v-58.96L0 -58.96z"/><path fill="url(#pg)" d="M3.83 2.45L8.53 0.70v-58.96L3.83 -56.51z"/><path fill="#90ca38" d="M0 -58.96L3.83 -56.51L8.53 -58.26L4.70 -60.72z"/></g>
<g transform="translate(399.82,190.57)"><path fill="url(#pg)" d="M0 0L3.83 2.45v-52.80L0 -52.80z"/><path fill="url(#pg)" d="M3.83 2.45L8.53 0.70v-52.80L3.83 -50.35z"/><path fill="#48cc71" d="M0 -52.80L3.83 -50.35L8.53 -52.10L4.70 -54.56z"/></g>
<g transform="translate(393.94,192.76)"><path fill="url(#pg)" d="M0 0L3.83 2.45v-46.64L0 -46.64z"/><path fill="url(#pg)" d="M3.83 2.45L8.53 0.70v-46.64L3.83 -44.19z"/><path fill="#1cc5a0" d="M0 -46.64L3.83 -44.19L8.53 -45.94L4.70 -48.40z"/></g>
<g transform="translate(388.07,194.96)"><path fill="url(#pg)" d="M0 0L3.83 2.45v-52.80L0 -52.80z"/><path fill="url(#pg)" d="M3.83 2.45L8.53 0.70v-52.80L3.83 -50.35z"/><path fill="#48cc71" d="M0 -52.80L3.83 -50.35L8.53 -52.10L4.70 -54.56z"/></g>
<g transform="translate(504.50,156.31)"><path fill="#3e26a8" d="M0 -0.00L3.83 2.45L8.53 0.70L4.70 -1.76z"/></g>
<g transform="translate(498.63,158.51)"><path fill="url(#pg)" d="M0 0L3.83 2.45v-38.72L0 -38.72z"/><path fill="url(#pg)" d="M3.83 2.45L8.53 0.70v-38.72L3.83 -36.27z"/><path fill="#00b6cd" d="M0 -38.72L3.83 -36.27L8.53 -38.02L4.70 -40.48z"/></g>
<g transform="translate(492.75,160.70)"><path fill="url(#pg)" d="M0 0L3.83 2.45v-43.12L0 -43.12z"/><path fill="url(#pg)" d="M3.83 2.45L8.53 0.70v-43.12L3.83 -40.67z"/><path fill="#02bfb6" d="M0 -43.12L3.83 -40.67L8.53 -42.42L4.70 -44.88z"/></g>
<g transform="translate(486.88,162.90)"><path fill="url(#pg)" d="M0 0L3.83 2.45v-50.16L0 -50.16z"/><path fill="url(#pg)" d="M3.83 2.45L8.53 0.70v-50.16L3.83 -47.71z"/><path fill="#2fca87" d="M0 -50.16L3.83 -47.71L8.53 -49.46L4.70 -51.92z"/></g>
<g transform="translate(481.00,165.09)"><path fill="url(#pg)" d="M0 0L3.83 2.45v-51.04L0 -51.04z"/><path fill="url(#pg)" d="M3.83 2.45L8.53 0.70v-51.04L3.83 -48.59z"/><path fill="#37cb7f" d="M0 -51.04L3.83 -48.59L8.53 -50.34L4.70 -52.80z"/></g>
<g transform="translate(475.12,167.29)"><path fill="url(#pg)" d="M0 0L3.83 2.45v-49.28L0 -49.28z"/><path fill="url(#pg)" d="M3.83 2.45L8.53 0.70v-49.28L3.83 -46.83z"/><path fill="#29c98d" d="M0 -49.28L3.83 -46.83L8.53 -48.58L4.70 -51.04z"/></g>
<g transform="translate(469.25,169.48)"><path fill="url(#pg)" d="M0 0L3.83 2.45v-44.00L0 -44.00z"/><path fill="url(#pg)" d="M3.83 2.45L8.53 0.70v-44.00L3.83 -41.55z"/><path fill="#0ac0b1" d="M0 -44.00L3.83 -41.55L8.53 -43.30L4.70 -45.76z"/></g>
<g transform="translate(463.37,171.68)"><path fill="url(#pg)" d="M0 0L3.83 2.45v-36.08L0 -36.08z"/><path fill="url(#pg)" d="M3.83 2.45L8.53 0.70v-36.08L3.83 -33.63z"/><path fill="#00acd8" d="M0 -36.08L3.83 -33.63L8.53 -35.38L4.70 -37.84z"/></g>
<g transform="translate(457.50,173.88)"><path fill="url(#pg)" d="M0 0L3.83 2.45v-25.52L0 -25.52z"/><path fill="url(#pg)" d="M3.83 2.45L8.53 0.70v-25.52L3.83 -23.07z"/><path fill="#157ff3" d="M0 -25.52L3.83 -23.07L8.53 -24.82L4.70 -27.28z"/></g>
<g transform="translate(451.62,176.07)"><path fill="url(#pg)" d="M0 0L3.83 2.45v-7.92L0 -7.92z"/><path fill="url(#pg)" d="M3.83 2.45L8.53 0.70v-7.92L3.83 -5.47z"/><path fill="#4039e4" d="M0 -7.92L3.83 -5.47L8.53 -7.22L4.70 -9.68z"/></g>
<g transform="translate(445.74,178.27)"><path fill="url(#pg)" d="M0 0L3.83 2.45v-7.92L0 -7.92z"/><path fill="url(#pg)" d="M3.83 2.45L8.53 0.70v-7.92L3.83 -5.47z"/><path fill="#4039e4" d="M0 -7.92L3.83 -5.47L8.53 -7.22L4.70 -9.68z"/></g>
<g transform="translate(439.87,180.46)"><path fill="url(#pg)" d="M0 0L3.83 2.45v-25.52L0 -25.52z"/><path fill="url(#pg)" d="M3.83 2.45L8.53 0.70v-25.52L3.83 -23.07z"/><path fill="#157ff3" d="M0 -25.52L3.83 -23.07L8.53 -24.82L4.70 -27.28z"/></g>
<g transform="translate(433.99,182.66)"><path fill="url(#pg)" d="M0 0L3.83 2.45v-36.08L0 -36.08z"/><path fill="url(#pg)" d="M3.83 2.45L8.53 0.70v-36.08L3.83 -33.63z"/><path fill="#00acd8" d="M0 -36.08L3.83 -33.63L8.53 -35.38L4.70 -37.84z"/></g>
<g transform="translate(428.11,184.85)"><path fill="url(#pg)" d="M0 0L3.83 2.45v-44.00L0 -44.00z"/><path fill="url(#pg)" d="M3.83 2.45L8.53 0.70v-44.00L3.83 -41.55z"/><path fill="#0ac0b1" d="M0 -44.00L3.83 -41.55L8.53 -43.30L4.70 -45.76z"/></g>
<g transform="translate(422.24,187.05)"><path fill="url(#pg)" d="M0 0L3.83 2.45v-49.28L0 -49.28z"/><path fill="url(#pg)" d="M3.83 2.45L8.53 0.70v-49.28L3.83 -46.83z"/><path fill="#29c98d" d="M0 -49.28L3.83 -46.83L8.53 -48.58L4.70 -51.04z"/></g>
<g transform="translate(416.36,189.24)"><path fill="url(#pg)" d="M0 0L3.83 2.45v-51.04L0 -51.04z"/><path fill="url(#pg)" d="M3.83 2.45L8.53 0.70v-51.04L3.83 -48.59z"/><path fill="#37cb7f" d="M0 -51.04L3.83 -48.59L8.53 -50.34L4.70 -52.80z"/></g>
<g transform="translate(410.49,191.44)"><path fill="url(#pg)" d="M0 0L3.83 2.45v-50.16L0 -50.16z"/><path fill="url(#pg)" d="M3.83 2.45L8.53 0.70v-50.16L3.83 -47.71z"/><path fill="#2fca87" d="M0 -50.16L3.83 -47.71L8.53 -49.46L4.70 -51.92z"/></g>
<g transform="translate(404.61,193.63)"><path fill="url(#pg)" d="M0 0L3.83 2.45v-43.12L0 -43.12z"/><path fill="url(#pg)" d="M3.83 2.45L8.53 0.70v-43.12L3.83 -40.67z"/><path fill="#02bfb6" d="M0 -43.12L3.83 -40.67L8.53 -42.42L4.70 -44.88z"/></g>
<g transform="translate(398.73,195.83)"><path fill="url(#pg)" d="M0 0L3.83 2.45v-38.72L0 -38.72z"/><path fill="url(#pg)" d="M3.83 2.45L8.53 0.70v-38.72L3.83 -36.27z"/><path fill="#00b6cd" d="M0 -38.72L3.83 -36.27L8.53 -38.02L4.70 -40.48z"/></g>
<g transform="translate(392.86,198.02)"><path fill="#3e26a8" d="M0 -0.00L3.83 2.45L8.53 0.70L4.70 -1.76z"/></g>
<g transform="translate(509.30,159.38)"><path fill="#3e26a8" d="M0 -0.00L3.83 2.45L8.53 0.70L4.70 -1.76z"/></g>
<g transform="translate(503.42,161.58)"><path fill="#3e26a8" d="M0 -0.00L3.83 2.45L8.53 0.70L4.70 -1.76z"/></g>
<g transform="translate(497.54,163.77)"><path fill="url(#pg)" d="M0 0L3.83 2.45v-37.84L0 -37.84z"/><path fill="url(#pg)" d="M3.83 2.45L8.53 0.70v-37.84L3.83 -35.39z"/><path fill="#00b3d1" d="M0 -37.84L3.83 -35.39L8.53 -37.14L4.70 -39.60z"/></g>
<g transform="translate(491.67,165.97)"><path fill="url(#pg)" d="M0 0L3.83 2.45v-41.36L0 -41.36z"/><path fill="url(#pg)" d="M3.83 2.45L8.53 0.70v-41.36L3.83 -38.91z"/><path fill="#00bcc0" d="M0 -41.36L3.83 -38.91L8.53 -40.66L4.70 -43.12z"/></g>
<g transform="translate(485.79,168.16)"><path fill="url(#pg)" d="M0 0L3.83 2.45v-42.24L0 -42.24z"/><path fill="url(#pg)" d="M3.83 2.45L8.53 0.70v-42.24L3.83 -39.79z"/><path fill="#00bdbb" d="M0 -42.24L3.83 -39.79L8.53 -41.54L4.70 -44.00z"/></g>
<g transform="translate(479.91,170.36)"><path fill="url(#pg)" d="M0 0L3.83 2.45v-40.48L0 -40.48z"/><path fill="url(#pg)" d="M3.83 2.45L8.53 0.70v-40.48L3.83 -38.03z"/><path fill="#00bac4" d="M0 -40.48L3.83 -38.03L8.53 -39.78L4.70 -42.24z"/></g>
<g transform="translate(474.04,172.55)"><path fill="url(#pg)" d="M0 0L3.83 2.45v-36.96L0 -36.96z"/><path fill="url(#pg)" d="M3.83 2.45L8.53 0.70v-36.96L3.83 -34.51z"/><path fill="#00b0d4" d="M0 -36.96L3.83 -34.51L8.53 -36.26L4.70 -38.72z"/></g>
<g transform="translate(468.16,174.75)"><path fill="url(#pg)" d="M0 0L3.83 2.45v-29.92L0 -29.92z"/><path fill="url(#pg)" d="M3.83 2.45L8.53 0.70v-29.92L3.83 -27.47z"/><path fill="#0e93e7" d="M0 -29.92L3.83 -27.47L8.53 -29.22L4.70 -31.68z"/></g>
<g transform="translate(462.29,176.94)"><path fill="url(#pg)" d="M0 0L3.83 2.45v-17.60L0 -17.60z"/><path fill="url(#pg)" d="M3.83 2.45L8.53 0.70v-17.60L3.83 -15.15z"/><path fill="#305afe" d="M0 -17.60L3.83 -15.15L8.53 -16.90L4.70 -19.36z"/></g>
<g transform="translate(456.41,179.14)"><path fill="url(#pg)" d="M0 0L3.83 2.45v-6.16L0 -6.16z"/><path fill="url(#pg)" d="M3.83 2.45L8.53 0.70v-6.16L3.83 -3.71z"/><path fill="#4034da" d="M0 -6.16L3.83 -3.71L8.53 -5.46L4.70 -7.92z"/></g>
<g transform="translate(450.53,181.33)"><path fill="url(#pg)" d="M0 0L3.83 2.45v-6.16L0 -6.16z"/><path fill="url(#pg)" d="M3.83 2.45L8.53 0.70v-6.16L3.83 -3.71z"/><path fill="#4034da" d="M0 -6.16L3.83 -3.71L8.53 -5.46L4.70 -7.92z"/></g>
<g transform="translate(444.66,183.53)"><path fill="url(#pg)" d="M0 0L3.83 2.45v-17.60L0 -17.60z"/><path fill="url(#pg)" d="M3.83 2.45L8.53 0.70v-17.60L3.83 -15.15z"/><path fill="#305afe" d="M0 -17.60L3.83 -15.15L8.53 -16.90L4.70 -19.36z"/></g>
<g transform="translate(438.78,185.72)"><path fill="url(#pg)" d="M0 0L3.83 2.45v-29.92L0 -29.92z"/><path fill="url(#pg)" d="M3.83 2.45L8.53 0.70v-29.92L3.83 -27.47z"/><path fill="#0e93e7" d="M0 -29.92L3.83 -27.47L8.53 -29.22L4.70 -31.68z"/></g>
<g transform="translate(432.90,187.92)"><path fill="url(#pg)" d="M0 0L3.83 2.45v-36.96L0 -36.96z"/><path fill="url(#pg)" d="M3.83 2.45L8.53 0.70v-36.96L3.83 -34.51z"/><path fill="#00b0d4" d="M0 -36.96L3.83 -34.51L8.53 -36.26L4.70 -38.72z"/></g>
<g transform="translate(427.03,190.11)"><path fill="url(#pg)" d="M0 0L3.83 2.45v-40.48L0 -40.48z"/><path fill="url(#pg)" d="M3.83 2.45L8.53 0.70v-40.48L3.83 -38.03z"/><path fill="#00bac4" d="M0 -40.48L3.83 -38.03L8.53 -39.78L4.70 -42.24z"/></g>
<g transform="translate(421.15,192.31)"><path fill="url(#pg)" d="M0 0L3.83 2.45v-42.24L0 -42.24z"/><path fill="url(#pg)" d="M3.83 2.45L8.53 0.70v-42.24L3.83 -39.79z"/><path fill="#00bdbb" d="M0 -42.24L3.83 -39.79L8.53 -41.54L4.70 -44.00z"/></g>
<g transform="translate(415.28,194.50)"><path fill="url(#pg)" d="M0 0L3.83 2.45v-41.36L0 -41.36z"/><path fill="url(#pg)" d="M3.83 2.45L8.53 0.70v-41.36L3.83 -38.91z"/><path fill="#00bcc0" d="M0 -41.36L3.83 -38.91L8.53 -40.66L4.70 -43.12z"/></g>
<g transform="translate(409.40,196.70)"><path fill="url(#pg)" d="M0 0L3.83 2.45v-37.84L0 -37.84z"/><path fill="url(#pg)" d="M3.83 2.45L8.53 0.70v-37.84L3.83 -35.39z"/><path fill="#00b3d1" d="M0 -37.84L3.83 -35.39L8.53 -37.14L4.70 -39.60z"/></g>
<g transform="translate(403.52,198.89)"><path fill="#3e26a8" d="M0 -0.00L3.83 2.45L8.53 0.70L4.70 -1.76z"/></g>
<g transform="translate(397.65,201.09)"><path fill="#3e26a8" d="M0 -0.00L3.83 2.45L8.53 0.70L4.70 -1.76z"/></g>
<g transform="translate(514.09,162.45)"><path fill="#3e26a8" d="M0 -0.00L3.83 2.45L8.53 0.70L4.70 -1.76z"/></g>
<g transform="translate(508.21,164.64)"><path fill="#3e26a8" d="M0 -0.00L3.83 2.45L8.53 0.70L4.70 -1.76z"/></g>
<g transform="translate(502.33,166.84)"><path fill="#3e26a8" d="M0 -0.00L3.83 2.45L8.53 0.70L4.70 -1.76z"/></g>
<g transform="translate(496.46,169.03)"><path fill="url(#pg)" d="M0 0L3.83 2.45v-32.56L0 -32.56z"/><path fill="url(#pg)" d="M3.83 2.45L8.53 0.70v-32.56L3.83 -30.11z"/><path fill="#089de2" d="M0 -32.56L3.83 -30.11L8.53 -31.86L4.70 -34.32z"/></g>
<g transform="translate(490.58,171.23)"><path fill="url(#pg)" d="M0 0L3.83 2.45v-34.32L0 -34.32z"/><path fill="url(#pg)" d="M3.83 2.45L8.53 0.70v-34.32L3.83 -31.87z"/><path fill="#04a4de" d="M0 -34.32L3.83 -31.87L8.53 -33.62L4.70 -36.08z"/></g>
<g transform="translate(484.70,173.42)"><path fill="url(#pg)" d="M0 0L3.83 2.45v-32.56L0 -32.56z"/><path fill="url(#pg)" d="M3.83 2.45L8.53 0.70v-32.56L3.83 -30.11z"/><path fill="#089de2" d="M0 -32.56L3.83 -30.11L8.53 -31.86L4.70 -34.32z"/></g>
<g transform="translate(478.83,175.62)"><path fill="url(#pg)" d="M0 0L3.83 2.45v-29.04L0 -29.04z"/><path fill="url(#pg)" d="M3.83 2.45L8.53 0.70v-29.04L3.83 -26.59z"/><path fill="#0f8fea" d="M0 -29.04L3.83 -26.59L8.53 -28.34L4.70 -30.80z"/></g>
<g transform="translate(472.95,177.81)"><path fill="url(#pg)" d="M0 0L3.83 2.45v-23.76L0 -23.76z"/><path fill="url(#pg)" d="M3.83 2.45L8.53 0.70v-23.76L3.83 -21.31z"/><path fill="#1676f8" d="M0 -23.76L3.83 -21.31L8.53 -23.06L4.70 -25.52z"/></g>
<g transform="translate(467.08,180.01)"><path fill="url(#pg)" d="M0 0L3.83 2.45v-13.20L0 -13.20z"/><path fill="url(#pg)" d="M3.83 2.45L8.53 0.70v-13.20L3.83 -10.75z"/><path fill="#3a4bf7" d="M0 -13.20L3.83 -10.75L8.53 -12.50L4.70 -14.96z"/></g>
<g transform="translate(461.20,182.20)"><path fill="url(#pg)" d="M0 0L3.83 2.45v-5.28L0 -5.28z"/><path fill="url(#pg)" d="M3.83 2.45L8.53 0.70v-5.28L3.83 -2.83z"/><path fill="#4132d4" d="M0 -5.28L3.83 -2.83L8.53 -4.58L4.70 -7.04z"/></g>
<g transform="translate(455.32,184.40)"><path fill="url(#pg)" d="M0 0L3.83 2.45v-5.28L0 -5.28z"/><path fill="url(#pg)" d="M3.83 2.45L8.53 0.70v-5.28L3.83 -2.83z"/><path fill="#4132d4" d="M0 -5.28L3.83 -2.83L8.53 -4.58L4.70 -7.04z"/></g>
<g transform="translate(449.45,186.59)"><path fill="url(#pg)" d="M0 0L3.83 2.45v-13.20L0 -13.20z"/><path fill="url(#pg)" d="M3.83 2.45L8.53 0.70v-13.20L3.83 -10.75z"/><path fill="#3a4bf7" d="M0 -13.20L3.83 -10.75L8.53 -12.50L4.70 -14.96z"/></g>
<g transform="translate(443.57,188.79)"><path fill="url(#pg)" d="M0 0L3.83 2.45v-23.76L0 -23.76z"/><path fill="url(#pg)" d="M3.83 2.45L8.53 0.70v-23.76L3.83 -21.31z"/><path fill="#1676f8" d="M0 -23.76L3.83 -21.31L8.53 -23.06L4.70 -25.52z"/></g>
<g transform="translate(437.70,190.98)"><path fill="url(#pg)" d="M0 0L3.83 2.45v-29.04L0 -29.04z"/><path fill="url(#pg)" d="M3.83 2.45L8.53 0.70v-29.04L3.83 -26.59z"/><path fill="#0f8fea" d="M0 -29.04L3.83 -26.59L8.53 -28.34L4.70 -30.80z"/></g>
<g transform="translate(431.82,193.18)"><path fill="url(#pg)" d="M0 0L3.83 2.45v-32.56L0 -32.56z"/><path fill="url(#pg)" d="M3.83 2.45L8.53 0.70v-32.56L3.83 -30.11z"/><path fill="#089de2" d="M0 -32.56L3.83 -30.11L8.53 -31.86L4.70 -34.32z"/></g>
<g transform="translate(425.94,195.38)"><path fill="url(#pg)" d="M0 0L3.83 2.45v-34.32L0 -34.32z"/><path fill="url(#pg)" d="M3.83 2.45L8.53 0.70v-34.32L3.83 -31.87z"/><path fill="#04a4de" d="M0 -34.32L3.83 -31.87L8.53 -33.62L4.70 -36.08z"/></g>
<g transform="translate(420.07,197.57)"><path fill="url(#pg)" d="M0 0L3.83 2.45v-32.56L0 -32.56z"/><path fill="url(#pg)" d="M3.83 2.45L8.53 0.70v-32.56L3.83 -30.11z"/><path fill="#089de2" d="M0 -32.56L3.83 -30.11L8.53 -31.86L4.70 -34.32z"/></g>
<g transform="translate(414.19,199.77)"><path fill="#3e26a8" d="M0 -0.00L3.83 2.45L8.53 0.70L4.70 -1.76z"/></g>
<g transform="translate(408.31,201.96)"><path fill="#3e26a8" d="M0 -0.00L3.83 2.45L8.53 0.70L4.70 -1.76z"/></g>
<g transform="translate(402.44,204.16)"><path fill="#3e26a8" d="M0 -0.00L3.83 2.45L8.53 0.70L4.70 -1.76z"/></g>
<g transform="translate(518.88,165.51)"><path fill="#3e26a8" d="M0 -0.00L3.83 2.45L8.53 0.70L4.70 -1.76z"/></g>
<g transform="translate(513.00,167.71)"><path fill="#3e26a8" d="M0 -0.00L3.83 2.45L8.53 0.70L4.70 -1.76z"/></g>
<g transform="translate(507.12,169.90)"><path fill="#3e26a8" d="M0 -0.00L3.83 2.45L8.53 0.70L4.70 -1.76z"/></g>
<g transform="translate(501.25,172.10)"><path fill="#3e26a8" d="M0 -0.00L3.83 2.45L8.53 0.70L4.70 -1.76z"/></g>
<g transform="translate(495.37,174.29)"><path fill="url(#pg)" d="M0 0L3.83 2.45v-27.28L0 -27.28z"/><path fill="url(#pg)" d="M3.83 2.45L8.53 0.70v-27.28L3.83 -24.83z"/><path fill="#1387ee" d="M0 -27.28L3.83 -24.83L8.53 -26.58L4.70 -29.04z"/></g>
<g transform="translate(489.50,176.49)"><path fill="url(#pg)" d="M0 0L3.83 2.45v-27.28L0 -27.28z"/><path fill="url(#pg)" d="M3.83 2.45L8.53 0.70v-27.28L3.83 -24.83z"/><path fill="#1387ee" d="M0 -27.28L3.83 -24.83L8.53 -26.58L4.70 -29.04z"/></g>
<g transform="translate(483.62,178.68)"><path fill="url(#pg)" d="M0 0L3.83 2.45v-25.52L0 -25.52z"/><path fill="url(#pg)" d="M3.83 2.45L8.53 0.70v-25.52L3.83 -23.07z"/><path fill="#157ff3" d="M0 -25.52L3.83 -23.07L8.53 -24.82L4.70 -27.28z"/></g>
<g transform="translate(477.74,180.88)"><path fill="url(#pg)" d="M0 0L3.83 2.45v-19.36L0 -19.36z"/><path fill="url(#pg)" d="M3.83 2.45L8.53 0.70v-19.36L3.83 -16.91z"/><path fill="#2762ff" d="M0 -19.36L3.83 -16.91L8.53 -18.66L4.70 -21.12z"/></g>
<g transform="translate(471.87,183.08)"><path fill="url(#pg)" d="M0 0L3.83 2.45v-11.44L0 -11.44z"/><path fill="url(#pg)" d="M3.83 2.45L8.53 0.70v-11.44L3.83 -8.99z"/><path fill="#3d45f2" d="M0 -11.44L3.83 -8.99L8.53 -10.74L4.70 -13.20z"/></g>
<g transform="translate(465.99,185.27)"><path fill="url(#pg)" d="M0 0L3.83 2.45v-5.28L0 -5.28z"/><path fill="url(#pg)" d="M3.83 2.45L8.53 0.70v-5.28L3.83 -2.83z"/><path fill="#4132d4" d="M0 -5.28L3.83 -2.83L8.53 -4.58L4.70 -7.04z"/></g>
<g transform="translate(460.11,187.47)"><path fill="url(#pg)" d="M0 0L3.83 2.45v-5.28L0 -5.28z"/><path fill="url(#pg)" d="M3.83 2.45L8.53 0.70v-5.28L3.83 -2.83z"/><path fill="#4132d4" d="M0 -5.28L3.83 -2.83L8.53 -4.58L4.70 -7.04z"/></g>
<g transform="translate(454.24,189.66)"><path fill="url(#pg)" d="M0 0L3.83 2.45v-11.44L0 -11.44z"/><path fill="url(#pg)" d="M3.83 2.45L8.53 0.70v-11.44L3.83 -8.99z"/><path fill="#3d45f2" d="M0 -11.44L3.83 -8.99L8.53 -10.74L4.70 -13.20z"/></g>
<g transform="translate(448.36,191.86)"><path fill="url(#pg)" d="M0 0L3.83 2.45v-19.36L0 -19.36z"/><path fill="url(#pg)" d="M3.83 2.45L8.53 0.70v-19.36L3.83 -16.91z"/><path fill="#2762ff" d="M0 -19.36L3.83 -16.91L8.53 -18.66L4.70 -21.12z"/></g>
<g transform="translate(442.49,194.05)"><path fill="url(#pg)" d="M0 0L3.83 2.45v-25.52L0 -25.52z"/><path fill="url(#pg)" d="M3.83 2.45L8.53 0.70v-25.52L3.83 -23.07z"/><path fill="#157ff3" d="M0 -25.52L3.83 -23.07L8.53 -24.82L4.70 -27.28z"/></g>
<g transform="translate(436.61,196.25)"><path fill="url(#pg)" d="M0 0L3.83 2.45v-27.28L0 -27.28z"/><path fill="url(#pg)" d="M3.83 2.45L8.53 0.70v-27.28L3.83 -24.83z"/><path fill="#1387ee" d="M0 -27.28L3.83 -24.83L8.53 -26.58L4.70 -29.04z"/></g>
<g transform="translate(430.73,198.44)"><path fill="url(#pg)" d="M0 0L3.83 2.45v-27.28L0 -27.28z"/><path fill="url(#pg)" d="M3.83 2.45L8.53 0.70v-27.28L3.83 -24.83z"/><path fill="#1387ee" d="M0 -27.28L3.83 -24.83L8.53 -26.58L4.70 -29.04z"/></g>
<g transform="translate(424.86,200.64)"><path fill="#3e26a8" d="M0 -0.00L3.83 2.45L8.53 0.70L4.70 -1.76z"/></g>
<g transform="translate(418.98,202.83)"><path fill="#3e26a8" d="M0 -0.00L3.83 2.45L8.53 0.70L4.70 -1.76z"/></g>
<g transform="translate(413.10,205.03)"><path fill="#3e26a8" d="M0 -0.00L3.83 2.45L8.53 0.70L4.70 -1.76z"/></g>
<g transform="translate(407.23,207.22)"><path fill="#3e26a8" d="M0 -0.00L3.83 2.45L8.53 0.70L4.70 -1.76z"/></g>
<g transform="translate(523.67,168.58)"><path fill="#3e26a8" d="M0 -0.00L3.83 2.45L8.53 0.70L4.70 -1.76z"/></g>
<g transform="translate(517.79,170.78)"><path fill="#3e26a8" d="M0 -0.00L3.83 2.45L8.53 0.70L4.70 -1.76z"/></g>
<g transform="translate(511.91,172.97)"><path fill="#3e26a8" d="M0 -0.00L3.83 2.45L8.53 0.70L4.70 -1.76z"/></g>
<g transform="translate(506.04,175.17)"><path fill="#3e26a8" d="M0 -0.00L3.83 2.45L8.53 0.70L4.70 -1.76z"/></g>
<g transform="translate(500.16,177.36)"><path fill="#3e26a8" d="M0 -0.00L3.83 2.45L8.53 0.70L4.70 -1.76z"/></g>
<g transform="translate(494.29,179.56)"><path fill="url(#pg)" d="M0 0L3.83 2.45v-26.40L0 -26.40z"/><path fill="url(#pg)" d="M3.83 2.45L8.53 0.70v-26.40L3.83 -23.95z"/><path fill="#1483f1" d="M0 -26.40L3.83 -23.95L8.53 -25.70L4.70 -28.16z"/></g>
<g transform="translate(488.41,181.75)"><path fill="url(#pg)" d="M0 0L3.83 2.45v-23.76L0 -23.76z"/><path fill="url(#pg)" d="M3.83 2.45L8.53 0.70v-23.76L3.83 -21.31z"/><path fill="#1676f8" d="M0 -23.76L3.83 -21.31L8.53 -23.06L4.70 -25.52z"/></g>
<g transform="translate(482.53,183.95)"><path fill="url(#pg)" d="M0 0L3.83 2.45v-18.48L0 -18.48z"/><path fill="url(#pg)" d="M3.83 2.45L8.53 0.70v-18.48L3.83 -16.03z"/><path fill="#2c5efe" d="M0 -18.48L3.83 -16.03L8.53 -17.78L4.70 -20.24z"/></g>
<g transform="translate(476.66,186.14)"><path fill="url(#pg)" d="M0 0L3.83 2.45v-11.44L0 -11.44z"/><path fill="url(#pg)" d="M3.83 2.45L8.53 0.70v-11.44L3.83 -8.99z"/><path fill="#3d45f2" d="M0 -11.44L3.83 -8.99L8.53 -10.74L4.70 -13.20z"/></g>
<g transform="translate(470.78,188.34)"><path fill="url(#pg)" d="M0 0L3.83 2.45v-5.28L0 -5.28z"/><path fill="url(#pg)" d="M3.83 2.45L8.53 0.70v-5.28L3.83 -2.83z"/><path fill="#4132d4" d="M0 -5.28L3.83 -2.83L8.53 -4.58L4.70 -7.04z"/></g>
<g transform="translate(464.90,190.53)"><path fill="url(#pg)" d="M0 0L3.83 2.45v-5.28L0 -5.28z"/><path fill="url(#pg)" d="M3.83 2.45L8.53 0.70v-5.28L3.83 -2.83z"/><path fill="#4132d4" d="M0 -5.28L3.83 -2.83L8.53 -4.58L4.70 -7.04z"/></g>
<g transform="translate(459.03,192.73)"><path fill="url(#pg)" d="M0 0L3.83 2.45v-11.44L0 -11.44z"/><path fill="url(#pg)" d="M3.83 2.45L8.53 0.70v-11.44L3.83 -8.99z"/><path fill="#3d45f2" d="M0 -11.44L3.83 -8.99L8.53 -10.74L4.70 -13.20z"/></g>
<g transform="translate(453.15,194.92)"><path fill="url(#pg)" d="M0 0L3.83 2.45v-18.48L0 -18.48z"/><path fill="url(#pg)" d="M3.83 2.45L8.53 0.70v-18.48L3.83 -16.03z"/><path fill="#2c5efe" d="M0 -18.48L3.83 -16.03L8.53 -17.78L4.70 -20.24z"/></g>
<g transform="translate(447.28,197.12)"><path fill="url(#pg)" d="M0 0L3.83 2.45v-23.76L0 -23.76z"/><path fill="url(#pg)" d="M3.83 2.45L8.53 0.70v-23.76L3.83 -21.31z"/><path fill="#1676f8" d="M0 -23.76L3.83 -21.31L8.53 -23.06L4.70 -25.52z"/></g>
<g transform="translate(441.40,199.31)"><path fill="url(#pg)" d="M0 0L3.83 2.45v-26.40L0 -26.40z"/><path fill="url(#pg)" d="M3.83 2.45L8.53 0.70v-26.40L3.83 -23.95z"/><path fill="#1483f1" d="M0 -26.40L3.83 -23.95L8.53 -25.70L4.70 -28.16z"/></g>
<g transform="translate(435.52,201.51)"><path fill="#3e26a8" d="M0 -0.00L3.83 2.45L8.53 0.70L4.70 -1.76z"/></g>
<g transform="translate(429.65,203.70)"><path fill="#3e26a8" d="M0 -0.00L3.83 2.45L8.53 0.70L4.70 -1.76z"/></g>
<g transform="translate(423.77,205.90)"><path fill="#3e26a8" d="M0 -0.00L3.83 2.45L8.53 0.70L4.70 -1.76z"/></g>
<g transform="translate(417.90,208.09)"><path fill="#3e26a8" d="M0 -0.00L3.83 2.45L8.53 0.70L4.70 -1.76z"/></g>
<g transform="translate(412.02,210.29)"><path fill="#3e26a8" d="M0 -0.00L3.83 2.45L8.53 0.70L4.70 -1.76z"/></g>
</g>
<path d="M314.60 151.50V63.50M314.60 151.50L415.20 215.90L538.60 169.80" fill="none" stroke="#6e6e6e" stroke-width="0.6"/>
<text x="308.1" y="160.8" font-size="8.2" text-anchor="end">0</text>
<text x="332.1" y="176.1" font-size="8.2" text-anchor="end">5</text>
<text x="356.0" y="191.5" font-size="8.2" text-anchor="end">10</text>
<text x="380.0" y="206.8" font-size="8.2" text-anchor="end">15</text>
<text x="403.9" y="222.1" font-size="8.2" text-anchor="end">20</text>
<text x="419.6" y="226.7" font-size="8.2">0</text>
<text x="449.0" y="215.7" font-size="8.2">5</text>
<text x="478.4" y="204.7" font-size="8.2">10</text>
<text x="507.7" y="193.8" font-size="8.2">15</text>
<text x="537.1" y="182.8" font-size="8.2">20</text>
<text x="308.3" y="149.6" font-size="8.2" text-anchor="end">0</text>
<text x="308.3" y="105.6" font-size="8.2" text-anchor="end">0.5</text>
<text x="308.3" y="61.6" font-size="8.2" text-anchor="end">1</text>
<path d="M314.60 151.50l-2.81 1.05M338.55 166.83l-2.81 1.05M362.50 182.17l-2.81 1.05M386.46 197.50l-2.81 1.05M410.41 212.83l-2.81 1.05M415.20 215.90l2.53 1.62M444.58 204.92l2.53 1.62M473.96 193.95l2.53 1.62M503.34 182.97l2.53 1.62M532.72 172.00l2.53 1.62M314.60 151.50l-2.53 -1.62M314.60 107.50l-2.53 -1.62M314.60 63.50l-2.53 -1.62" stroke="#6e6e6e" stroke-width="0.6" fill="none"/>
<text x="345.1" y="221.9" font-size="9" textLength="21.3">Rows</text>
<text x="466.4" y="227" font-size="9" textLength="34.6">Columns</text>
<text transform="translate(291.7,106.7) rotate(-90)" font-size="9" text-anchor="middle">Sx</text>
<text x="293" y="49.2" font-size="8.2">×<tspan dx="1.2">10</tspan><tspan dy="-3.6" dx="0.3" font-size="5.8">-3</tspan></text>
<text x="298.7" y="264.7" font-size="11.5" font-weight="bold" text-anchor="middle" style="fill:#111">(a)</text>
</svg></body></html>
